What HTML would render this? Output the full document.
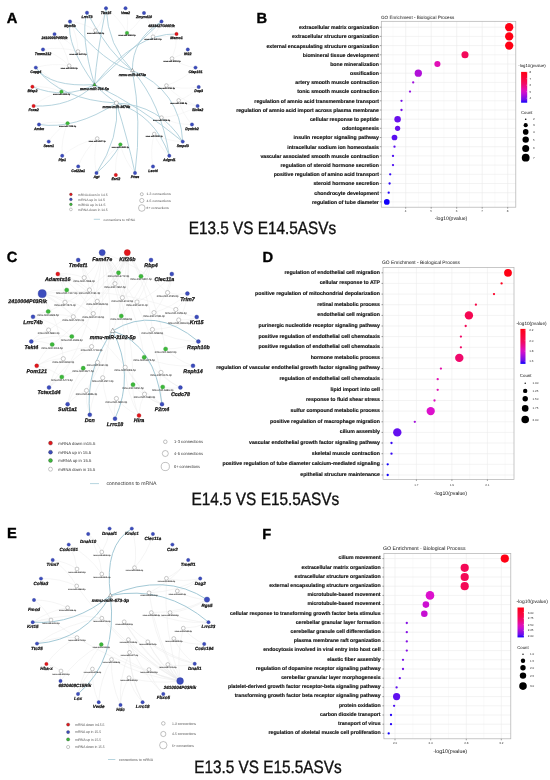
<!DOCTYPE html>
<html><head><meta charset="utf-8"><title>Figure</title>
<style>html,body{margin:0;padding:0;background:#fff;width:550px;height:780px;overflow:hidden}svg{display:block}</style></head>
<body><svg width="550" height="780" viewBox="0 0 550 780" text-rendering="geometricPrecision" font-family="'Liberation Sans', Arial, sans-serif">
<rect width="550" height="780" fill="#fff"/>
<path d="M127.0 33.0 Q129.2 20.4 125.5 8.2" fill="none" stroke="#ececec" stroke-width="0.45"/>
<path d="M127.0 33.0 Q137.9 25.0 144.0 13.0" fill="none" stroke="#ececec" stroke-width="0.45"/>
<path d="M127.0 33.0 Q119.5 18.1 106.0 8.2" fill="none" stroke="#ececec" stroke-width="0.45"/>
<path d="M61.5 91.8 Q47.6 85.8 32.4 86.7" fill="none" stroke="#ececec" stroke-width="0.45"/>
<path d="M61.5 91.8 Q45.8 95.6 33.6 106.0" fill="none" stroke="#ececec" stroke-width="0.45"/>
<path d="M61.5 91.8 Q51.6 76.6 35.8 67.6" fill="none" stroke="#ececec" stroke-width="0.45"/>
<path d="M67.6 123.3 Q56.0 130.2 48.7 141.6" fill="none" stroke="#ececec" stroke-width="0.45"/>
<path d="M67.6 123.3 Q53.2 120.5 39.0 124.5" fill="none" stroke="#ececec" stroke-width="0.45"/>
<path d="M67.6 123.3 Q61.0 138.9 62.2 155.8" fill="none" stroke="#ececec" stroke-width="0.45"/>
<path d="M120.4 144.5 Q114.4 159.2 115.8 175.0" fill="none" stroke="#ececec" stroke-width="0.45"/>
<path d="M120.4 144.5 Q124.3 160.5 135.0 173.0" fill="none" stroke="#ececec" stroke-width="0.45"/>
<path d="M120.4 144.5 Q105.0 155.9 96.5 173.0" fill="none" stroke="#ececec" stroke-width="0.45"/>
<path d="M95.5 30.5 Q93.4 20.6 87.0 12.7" fill="none" stroke="#ececec" stroke-width="0.45"/>
<path d="M95.5 30.5 Q103.4 20.6 106.0 8.2" fill="none" stroke="#ececec" stroke-width="0.45"/>
<path d="M95.5 30.5 Q83.8 22.9 70.0 21.5" fill="none" stroke="#ececec" stroke-width="0.45"/>
<path d="M153.0 36.7 Q159.1 30.1 161.5 21.5" fill="none" stroke="#ececec" stroke-width="0.45"/>
<path d="M153.0 36.7 Q165.1 38.2 176.5 34.0" fill="none" stroke="#ececec" stroke-width="0.45"/>
<path d="M153.0 36.7 Q151.3 23.8 144.0 13.0" fill="none" stroke="#ececec" stroke-width="0.45"/>
<path d="M78.0 51.5 Q68.3 40.0 54.5 34.1" fill="none" stroke="#ececec" stroke-width="0.45"/>
<path d="M78.0 51.5 Q77.6 35.5 70.0 21.5" fill="none" stroke="#ececec" stroke-width="0.45"/>
<path d="M78.0 51.5 Q60.7 46.3 43.0 49.5" fill="none" stroke="#ececec" stroke-width="0.45"/>
<path d="M69.2 65.7 Q58.0 54.5 43.0 49.5" fill="none" stroke="#ececec" stroke-width="0.45"/>
<path d="M69.2 65.7 Q52.3 62.6 35.8 67.6" fill="none" stroke="#ececec" stroke-width="0.45"/>
<path d="M69.2 65.7 Q65.6 48.1 54.5 34.1" fill="none" stroke="#ececec" stroke-width="0.45"/>
<path d="M172.0 58.5 Q181.0 55.9 187.8 49.5" fill="none" stroke="#ececec" stroke-width="0.45"/>
<path d="M172.0 58.5 Q177.2 46.8 176.5 34.0" fill="none" stroke="#ececec" stroke-width="0.45"/>
<path d="M172.0 58.5 Q182.7 65.9 195.5 67.6" fill="none" stroke="#ececec" stroke-width="0.45"/>
<path d="M166.4 85.5 Q182.4 90.1 198.7 87.0" fill="none" stroke="#ececec" stroke-width="0.45"/>
<path d="M166.4 85.5 Q183.1 80.0 195.5 67.6" fill="none" stroke="#ececec" stroke-width="0.45"/>
<path d="M166.4 85.5 Q179.5 99.5 197.6 106.0" fill="none" stroke="#ececec" stroke-width="0.45"/>
<path d="M178.7 100.4 Q187.5 105.5 197.6 106.0" fill="none" stroke="#ececec" stroke-width="0.45"/>
<path d="M178.7 100.4 Q190.3 96.1 198.7 87.0" fill="none" stroke="#ececec" stroke-width="0.45"/>
<path d="M178.7 100.4 Q182.5 114.0 192.0 124.5" fill="none" stroke="#ececec" stroke-width="0.45"/>
<path d="M161.5 117.6 Q175.9 124.7 192.0 124.5" fill="none" stroke="#ececec" stroke-width="0.45"/>
<path d="M161.5 117.6 Q169.2 132.1 182.7 141.6" fill="none" stroke="#ececec" stroke-width="0.45"/>
<path d="M161.5 117.6 Q180.9 116.1 197.6 106.0" fill="none" stroke="#ececec" stroke-width="0.45"/>
<path d="M154.2 134.0 Q159.1 146.7 169.3 155.8" fill="none" stroke="#ececec" stroke-width="0.45"/>
<path d="M154.2 134.0 Q167.5 141.2 182.7 141.6" fill="none" stroke="#ececec" stroke-width="0.45"/>
<path d="M154.2 134.0 Q149.7 150.1 153.0 166.5" fill="none" stroke="#ececec" stroke-width="0.45"/>
<path d="M97.2 138.5 Q84.4 150.2 78.2 166.4" fill="none" stroke="#ececec" stroke-width="0.45"/>
<path d="M97.2 138.5 Q92.7 155.7 96.5 173.0" fill="none" stroke="#ececec" stroke-width="0.45"/>
<path d="M97.2 138.5 Q77.6 143.0 62.2 155.8" fill="none" stroke="#ececec" stroke-width="0.45"/>
<path d="M70.0 21.5 Q66.0 45.0 94.5 84.6" fill="none" stroke="#a3c9d6" stroke-width="0.8"/>
<path d="M70.0 21.5 Q106.0 65.0 132.4 70.4" fill="none" stroke="#a3c9d6" stroke-width="0.8"/>
<path d="M87.0 12.7 Q80.0 36.0 94.5 84.6" fill="none" stroke="#a3c9d6" stroke-width="0.8"/>
<path d="M87.0 12.7 Q110.0 55.0 132.4 70.4" fill="none" stroke="#a3c9d6" stroke-width="0.8"/>
<path d="M106.0 8.2 Q97.0 52.0 94.5 84.6" fill="none" stroke="#a3c9d6" stroke-width="0.8"/>
<path d="M106.0 8.2 Q108.0 46.0 132.4 70.4" fill="none" stroke="#a3c9d6" stroke-width="0.8"/>
<path d="M161.5 21.5 Q132.0 39.0 132.4 70.4" fill="none" stroke="#a3c9d6" stroke-width="0.8"/>
<path d="M161.5 21.5 Q128.0 53.0 94.5 84.6" fill="none" stroke="#a3c9d6" stroke-width="0.8"/>
<path d="M176.5 34.0 Q136.5 32.7 94.5 84.6" fill="none" stroke="#a3c9d6" stroke-width="0.8"/>
<path d="M35.8 67.6 Q50.0 87.5 94.5 84.6" fill="none" stroke="#a3c9d6" stroke-width="0.8"/>
<path d="M35.8 67.6 Q60.0 100.0 116.4 103.0" fill="none" stroke="#a3c9d6" stroke-width="0.8"/>
<path d="M32.4 86.7 Q65.0 100.0 94.5 84.6" fill="none" stroke="#a3c9d6" stroke-width="0.8"/>
<path d="M33.6 106.0 Q71.0 107.5 94.5 84.6" fill="none" stroke="#a3c9d6" stroke-width="0.8"/>
<path d="M39.0 124.5 Q75.0 130.0 116.4 103.0" fill="none" stroke="#a3c9d6" stroke-width="0.8"/>
<path d="M132.4 70.4 Q180.0 90.0 182.7 141.6" fill="none" stroke="#a3c9d6" stroke-width="0.8"/>
<path d="M132.4 70.4 Q161.0 103.0 169.3 155.8" fill="none" stroke="#a3c9d6" stroke-width="0.8"/>
<path d="M116.4 103.0 Q160.0 105.0 182.7 141.6" fill="none" stroke="#a3c9d6" stroke-width="0.8"/>
<path d="M116.4 103.0 Q155.0 115.0 169.3 155.8" fill="none" stroke="#a3c9d6" stroke-width="0.8"/>
<path d="M132.4 70.4 Q142.0 122.0 135.0 173.0" fill="none" stroke="#a3c9d6" stroke-width="0.8"/>
<path d="M116.4 103.0 Q128.0 140.0 135.0 173.0" fill="none" stroke="#a3c9d6" stroke-width="0.8"/>
<path d="M116.4 103.0 Q120.0 137.0 96.5 173.0" fill="none" stroke="#a3c9d6" stroke-width="0.8"/>
<path d="M120.4 144.5 Q112.0 160.0 96.5 173.0" fill="none" stroke="#a3c9d6" stroke-width="0.8"/>
<path d="M94.5 84.6 Q105.0 95.0 116.4 103.0" fill="none" stroke="#a3c9d6" stroke-width="0.8"/>
<path d="M94.5 84.6 Q141.0 107.0 182.7 141.6" fill="none" stroke="#a3c9d6" stroke-width="0.8"/>
<circle cx="127.0" cy="33.0" r="1.8" fill="#3cb93a" stroke="#2a8a2a" stroke-width="0.3"/>
<text x="127.0" y="36.3" font-size="2.05" text-anchor="middle" fill="#222" stroke="#222" stroke-width="0.16">mmu-miR-3849-3p</text>
<circle cx="61.5" cy="91.8" r="1.8" fill="#3cb93a" stroke="#2a8a2a" stroke-width="0.3"/>
<text x="61.5" y="95.1" font-size="2.05" text-anchor="middle" fill="#222" stroke="#222" stroke-width="0.16">mmu-miR-4930-5p</text>
<circle cx="67.6" cy="123.3" r="1.8" fill="#3cb93a" stroke="#2a8a2a" stroke-width="0.3"/>
<text x="67.6" y="126.6" font-size="2.05" text-anchor="middle" fill="#222" stroke="#222" stroke-width="0.16">mmu-miR-7025-3p</text>
<circle cx="120.4" cy="144.5" r="1.8" fill="#3cb93a" stroke="#2a8a2a" stroke-width="0.3"/>
<text x="120.4" y="147.8" font-size="2.05" text-anchor="middle" fill="#222" stroke="#222" stroke-width="0.16">mmu-miR-6861-3p</text>
<circle cx="95.5" cy="30.5" r="1.8" fill="#fff" stroke="#666" stroke-width="0.35"/>
<text x="95.5" y="33.8" font-size="2.05" text-anchor="middle" fill="#222" stroke="#222" stroke-width="0.16">mmu-miR-5743-5p</text>
<circle cx="153.0" cy="36.7" r="1.8" fill="#fff" stroke="#666" stroke-width="0.35"/>
<text x="153.0" y="40.0" font-size="2.05" text-anchor="middle" fill="#222" stroke="#222" stroke-width="0.16">mmu-miR-6412-3p</text>
<circle cx="78.0" cy="51.5" r="1.8" fill="#fff" stroke="#666" stroke-width="0.35"/>
<text x="78.0" y="54.8" font-size="2.05" text-anchor="middle" fill="#222" stroke="#222" stroke-width="0.16">mmu-miR-3470-5p</text>
<circle cx="69.2" cy="65.7" r="1.8" fill="#fff" stroke="#666" stroke-width="0.35"/>
<text x="69.2" y="69.0" font-size="2.05" text-anchor="middle" fill="#222" stroke="#222" stroke-width="0.16">mmu-miR-6331-5p</text>
<circle cx="172.0" cy="58.5" r="1.8" fill="#fff" stroke="#666" stroke-width="0.35"/>
<text x="172.0" y="61.8" font-size="2.05" text-anchor="middle" fill="#222" stroke="#222" stroke-width="0.16">mmu-miR-5153-3p</text>
<circle cx="166.4" cy="85.5" r="1.8" fill="#fff" stroke="#666" stroke-width="0.35"/>
<text x="166.4" y="88.8" font-size="2.05" text-anchor="middle" fill="#222" stroke="#222" stroke-width="0.16">mmu-miR-3799-3p</text>
<circle cx="178.7" cy="100.4" r="1.8" fill="#fff" stroke="#666" stroke-width="0.35"/>
<text x="178.7" y="103.7" font-size="2.05" text-anchor="middle" fill="#222" stroke="#222" stroke-width="0.16">mmu-miR-6185-5p</text>
<circle cx="161.5" cy="117.6" r="1.8" fill="#fff" stroke="#666" stroke-width="0.35"/>
<text x="161.5" y="120.9" font-size="2.05" text-anchor="middle" fill="#222" stroke="#222" stroke-width="0.16">mmu-miR-2024-3p</text>
<circle cx="154.2" cy="134.0" r="1.8" fill="#fff" stroke="#666" stroke-width="0.35"/>
<text x="154.2" y="137.3" font-size="2.05" text-anchor="middle" fill="#222" stroke="#222" stroke-width="0.16">mmu-miR-3205-3p</text>
<circle cx="97.2" cy="138.5" r="1.8" fill="#fff" stroke="#666" stroke-width="0.35"/>
<text x="97.2" y="141.8" font-size="2.05" text-anchor="middle" fill="#222" stroke="#222" stroke-width="0.16">mmu-miR-4367-3p</text>
<circle cx="87.0" cy="12.7" r="1.7" fill="#3c4cbd" stroke="#2a3590" stroke-width="0.3"/>
<text x="87.0" y="17.9" font-size="3.6" text-anchor="middle" font-weight="bold" font-style="italic" fill="#111" stroke="#111" stroke-width="0.25">Lrrc73</text>
<circle cx="106.0" cy="8.2" r="1.7" fill="#3c4cbd" stroke="#2a3590" stroke-width="0.3"/>
<text x="106.0" y="13.9" font-size="3.6" text-anchor="middle" font-weight="bold" font-style="italic" fill="#111" stroke="#111" stroke-width="0.25">Tbx15</text>
<circle cx="125.5" cy="8.2" r="1.7" fill="#3c4cbd" stroke="#2a3590" stroke-width="0.3"/>
<text x="125.5" y="13.9" font-size="3.6" text-anchor="middle" font-weight="bold" font-style="italic" fill="#111" stroke="#111" stroke-width="0.25">Vwa2</text>
<circle cx="144.0" cy="13.0" r="1.7" fill="#3c4cbd" stroke="#2a3590" stroke-width="0.3"/>
<text x="144.0" y="17.9" font-size="3.6" text-anchor="middle" font-weight="bold" font-style="italic" fill="#111" stroke="#111" stroke-width="0.25">Zmynd10</text>
<circle cx="161.5" cy="21.5" r="1.7" fill="#3c4cbd" stroke="#2a3590" stroke-width="0.3"/>
<text x="161.5" y="26.5" font-size="3.6" text-anchor="middle" font-weight="bold" font-style="italic" fill="#111" stroke="#111" stroke-width="0.25">4833427G06Rik</text>
<circle cx="176.5" cy="34.0" r="1.7" fill="#e3161c" stroke="#a01010" stroke-width="0.3"/>
<text x="176.5" y="39.1" font-size="3.6" text-anchor="middle" font-weight="bold" font-style="italic" fill="#111" stroke="#111" stroke-width="0.25">Msmo1</text>
<circle cx="187.8" cy="49.5" r="1.7" fill="#3c4cbd" stroke="#2a3590" stroke-width="0.3"/>
<text x="187.8" y="54.5" font-size="3.6" text-anchor="middle" font-weight="bold" font-style="italic" fill="#111" stroke="#111" stroke-width="0.25">Ift22</text>
<circle cx="195.5" cy="67.6" r="1.7" fill="#3c4cbd" stroke="#2a3590" stroke-width="0.3"/>
<text x="195.5" y="72.7" font-size="3.6" text-anchor="middle" font-weight="bold" font-style="italic" fill="#111" stroke="#111" stroke-width="0.25">Cfap161</text>
<circle cx="198.7" cy="87.0" r="1.7" fill="#3c4cbd" stroke="#2a3590" stroke-width="0.3"/>
<text x="198.7" y="91.9" font-size="3.6" text-anchor="middle" font-weight="bold" font-style="italic" fill="#111" stroke="#111" stroke-width="0.25">Dsp3</text>
<circle cx="197.6" cy="106.0" r="1.7" fill="#3c4cbd" stroke="#2a3590" stroke-width="0.3"/>
<text x="197.6" y="111.0" font-size="3.6" text-anchor="middle" font-weight="bold" font-style="italic" fill="#111" stroke="#111" stroke-width="0.25">Slc9a2</text>
<circle cx="192.0" cy="124.5" r="1.7" fill="#3c4cbd" stroke="#2a3590" stroke-width="0.3"/>
<text x="192.0" y="129.8" font-size="3.6" text-anchor="middle" font-weight="bold" font-style="italic" fill="#111" stroke="#111" stroke-width="0.25">Dynlrb2</text>
<circle cx="182.7" cy="141.6" r="1.7" fill="#3c4cbd" stroke="#2a3590" stroke-width="0.3"/>
<text x="182.7" y="146.8" font-size="3.6" text-anchor="middle" font-weight="bold" font-style="italic" fill="#111" stroke="#111" stroke-width="0.25">Smpd3</text>
<circle cx="169.3" cy="155.8" r="1.7" fill="#3c4cbd" stroke="#2a3590" stroke-width="0.3"/>
<text x="169.3" y="160.9" font-size="3.6" text-anchor="middle" font-weight="bold" font-style="italic" fill="#111" stroke="#111" stroke-width="0.25">Adgrd1</text>
<circle cx="153.0" cy="166.5" r="1.7" fill="#3c4cbd" stroke="#2a3590" stroke-width="0.3"/>
<text x="153.0" y="171.5" font-size="3.6" text-anchor="middle" font-weight="bold" font-style="italic" fill="#111" stroke="#111" stroke-width="0.25">Lect4</text>
<circle cx="135.0" cy="173.0" r="1.7" fill="#3c4cbd" stroke="#2a3590" stroke-width="0.3"/>
<text x="135.0" y="178.3" font-size="3.6" text-anchor="middle" font-weight="bold" font-style="italic" fill="#111" stroke="#111" stroke-width="0.25">Ptws</text>
<circle cx="115.8" cy="175.0" r="1.7" fill="#e3161c" stroke="#a01010" stroke-width="0.3"/>
<text x="115.8" y="180.3" font-size="3.6" text-anchor="middle" font-weight="bold" font-style="italic" fill="#111" stroke="#111" stroke-width="0.25">Esrl2</text>
<circle cx="96.5" cy="173.0" r="1.7" fill="#3c4cbd" stroke="#2a3590" stroke-width="0.3"/>
<text x="96.5" y="178.3" font-size="3.6" text-anchor="middle" font-weight="bold" font-style="italic" fill="#111" stroke="#111" stroke-width="0.25">Agt</text>
<circle cx="78.2" cy="166.4" r="1.7" fill="#3c4cbd" stroke="#2a3590" stroke-width="0.3"/>
<text x="78.2" y="171.5" font-size="3.6" text-anchor="middle" font-weight="bold" font-style="italic" fill="#111" stroke="#111" stroke-width="0.25">Col22a1</text>
<circle cx="62.2" cy="155.8" r="1.7" fill="#3c4cbd" stroke="#2a3590" stroke-width="0.3"/>
<text x="62.2" y="160.9" font-size="3.6" text-anchor="middle" font-weight="bold" font-style="italic" fill="#111" stroke="#111" stroke-width="0.25">Plp1</text>
<circle cx="48.7" cy="141.6" r="1.7" fill="#3c4cbd" stroke="#2a3590" stroke-width="0.3"/>
<text x="48.7" y="146.8" font-size="3.6" text-anchor="middle" font-weight="bold" font-style="italic" fill="#111" stroke="#111" stroke-width="0.25">Sesn1</text>
<circle cx="39.0" cy="124.5" r="1.7" fill="#3c4cbd" stroke="#2a3590" stroke-width="0.3"/>
<text x="39.0" y="129.5" font-size="3.6" text-anchor="middle" font-weight="bold" font-style="italic" fill="#111" stroke="#111" stroke-width="0.25">Ambn</text>
<circle cx="33.6" cy="106.0" r="1.7" fill="#e3161c" stroke="#a01010" stroke-width="0.3"/>
<text x="33.6" y="111.0" font-size="3.6" text-anchor="middle" font-weight="bold" font-style="italic" fill="#111" stroke="#111" stroke-width="0.25">Foxa2</text>
<circle cx="32.4" cy="86.7" r="1.7" fill="#e3161c" stroke="#a01010" stroke-width="0.3"/>
<text x="32.4" y="91.8" font-size="3.6" text-anchor="middle" font-weight="bold" font-style="italic" fill="#111" stroke="#111" stroke-width="0.25">Bfsp2</text>
<circle cx="35.8" cy="67.6" r="1.7" fill="#3c4cbd" stroke="#2a3590" stroke-width="0.3"/>
<text x="35.8" y="73.3" font-size="3.6" text-anchor="middle" font-weight="bold" font-style="italic" fill="#111" stroke="#111" stroke-width="0.25">Cspg4</text>
<circle cx="43.0" cy="49.5" r="1.7" fill="#3c4cbd" stroke="#2a3590" stroke-width="0.3"/>
<text x="43.0" y="54.8" font-size="3.6" text-anchor="middle" font-weight="bold" font-style="italic" fill="#111" stroke="#111" stroke-width="0.25">Tmem212</text>
<circle cx="54.5" cy="34.1" r="1.7" fill="#3c4cbd" stroke="#2a3590" stroke-width="0.3"/>
<text x="54.5" y="38.9" font-size="3.6" text-anchor="middle" font-weight="bold" font-style="italic" fill="#111" stroke="#111" stroke-width="0.25">2410006P05Rik</text>
<circle cx="70.0" cy="21.5" r="1.7" fill="#3c4cbd" stroke="#2a3590" stroke-width="0.3"/>
<text x="70.0" y="26.8" font-size="3.6" text-anchor="middle" font-weight="bold" font-style="italic" fill="#111" stroke="#111" stroke-width="0.25">Myo5b</text>
<path d="M94.5 82.7 L96.3 85.9 L92.7 85.9 Z" fill="#3cb93a" stroke="#333" stroke-width="0.35"/>
<text x="94.5" y="89.7" font-size="3.55" text-anchor="middle" font-weight="bold" font-style="italic" fill="#111" stroke="#111" stroke-width="0.25">mmu-miR-764-5p</text>
<path d="M132.4 68.5 L134.2 71.7 L130.6 71.7 Z" fill="#fff" stroke="#333" stroke-width="0.35"/>
<text x="132.4" y="75.5" font-size="3.55" text-anchor="middle" font-weight="bold" font-style="italic" fill="#111" stroke="#111" stroke-width="0.25">mmu-miR-3473e</text>
<circle cx="116.4" cy="103.0" r="2.0" fill="#fff" stroke="#666" stroke-width="0.35"/>
<text x="116.4" y="108.2" font-size="3.55" text-anchor="middle" font-weight="bold" font-style="italic" fill="#111" stroke="#111" stroke-width="0.25">mmu-miR-3479b</text>
<circle cx="70.9" cy="194.4" r="1.4" fill="#e3161c" stroke="#333" stroke-width="0.3"/>
<text x="78.0" y="195.6" font-size="3.3" fill="#555" textLength="29.6" lengthAdjust="spacingAndGlyphs">mRNA down in 14.5</text>
<circle cx="70.9" cy="199.4" r="1.4" fill="#3c4cbd" stroke="#333" stroke-width="0.3"/>
<text x="78.0" y="200.6" font-size="3.3" fill="#555" textLength="27.0" lengthAdjust="spacingAndGlyphs">mRNA up in 14.5</text>
<circle cx="70.9" cy="204.4" r="1.4" fill="#3cb93a" stroke="#333" stroke-width="0.3"/>
<text x="78.0" y="205.6" font-size="3.3" fill="#555" textLength="27.5" lengthAdjust="spacingAndGlyphs">miRNA up in 14.5</text>
<circle cx="70.9" cy="209.4" r="1.4" fill="#fff" stroke="#666" stroke-width="0.35"/>
<text x="78.0" y="210.6" font-size="3.3" fill="#555" textLength="29.6" lengthAdjust="spacingAndGlyphs">miRNA down in 14.5</text>
<circle cx="141.8" cy="194.2" r="1.5" fill="#fff" stroke="#666" stroke-width="0.4"/>
<text x="146.6" y="195.4" font-size="3.3" fill="#555" textLength="24.0" lengthAdjust="spacingAndGlyphs">1-3 connections</text>
<circle cx="141.8" cy="200.5" r="2.1" fill="#fff" stroke="#666" stroke-width="0.4"/>
<text x="146.6" y="201.7" font-size="3.3" fill="#555" textLength="24.0" lengthAdjust="spacingAndGlyphs">4-5 connections</text>
<circle cx="141.8" cy="208" r="3.3" fill="#fff" stroke="#666" stroke-width="0.4"/>
<text x="146.6" y="209.2" font-size="3.3" fill="#555" textLength="22.0" lengthAdjust="spacingAndGlyphs">6+ connections</text>
<line x1="93.8" y1="219.3" x2="100" y2="219.3" stroke="#a3c9d6" stroke-width="0.8"/>
<text x="103.6" y="220.5" font-size="3.3" fill="#555" textLength="31.7" lengthAdjust="spacingAndGlyphs">connections to mRNA</text>
<path d="M66.7 290.0 Q64.2 280.9 57.8 274.0" fill="none" stroke="#ebebeb" stroke-width="0.45"/>
<path d="M66.7 290.0 Q54.0 288.9 42.2 293.7" fill="none" stroke="#ebebeb" stroke-width="0.45"/>
<path d="M118.5 272.8 Q125.3 263.8 127.3 252.6" fill="none" stroke="#ebebeb" stroke-width="0.45"/>
<path d="M118.5 272.8 Q112.8 260.7 102.2 252.6" fill="none" stroke="#ebebeb" stroke-width="0.45"/>
<path d="M118.5 272.8 Q112.8 260.7 102.2 252.6" fill="none" stroke="#ebebeb" stroke-width="0.45"/>
<path d="M141.0 276.3 Q148.0 269.3 151.0 260.0" fill="none" stroke="#ebebeb" stroke-width="0.45"/>
<path d="M141.0 276.3 Q137.0 262.8 127.3 252.6" fill="none" stroke="#ebebeb" stroke-width="0.45"/>
<path d="M48.2 311.5 Q40.0 312.3 33.0 316.8" fill="none" stroke="#ebebeb" stroke-width="0.45"/>
<path d="M48.2 311.5 Q47.3 301.9 42.2 293.7" fill="none" stroke="#ebebeb" stroke-width="0.45"/>
<path d="M48.2 311.5 Q94.8 291.5 127.3 252.6" fill="none" stroke="#ebebeb" stroke-width="0.45"/>
<path d="M121.3 316.0 Q142.9 291.6 151.0 260.0" fill="none" stroke="#ebebeb" stroke-width="0.45"/>
<path d="M121.3 316.0 Q131.9 285.0 127.3 252.6" fill="none" stroke="#ebebeb" stroke-width="0.45"/>
<path d="M71.8 336.5 Q50.9 334.1 31.3 341.5" fill="none" stroke="#ebebeb" stroke-width="0.45"/>
<path d="M71.8 336.5 Q54.8 322.0 33.0 316.8" fill="none" stroke="#ebebeb" stroke-width="0.45"/>
<path d="M71.8 336.5 Q109.6 301.2 127.3 252.6" fill="none" stroke="#ebebeb" stroke-width="0.45"/>
<path d="M52.2 344.5 Q42.1 340.5 31.3 341.5" fill="none" stroke="#ebebeb" stroke-width="0.45"/>
<path d="M52.2 344.5 Q41.9 353.3 36.7 365.8" fill="none" stroke="#ebebeb" stroke-width="0.45"/>
<path d="M52.2 344.5 Q100.8 307.6 127.3 252.6" fill="none" stroke="#ebebeb" stroke-width="0.45"/>
<path d="M83.2 368.2 Q71.1 384.3 67.6 404.2" fill="none" stroke="#ebebeb" stroke-width="0.45"/>
<path d="M83.2 368.2 Q63.8 373.7 49.0 387.5" fill="none" stroke="#ebebeb" stroke-width="0.45"/>
<path d="M61.8 377.0 Q54.1 380.7 49.0 387.5" fill="none" stroke="#ebebeb" stroke-width="0.45"/>
<path d="M61.8 377.0 Q50.6 368.4 36.7 365.8" fill="none" stroke="#ebebeb" stroke-width="0.45"/>
<path d="M61.8 377.0 Q96.9 319.6 102.2 252.6" fill="none" stroke="#ebebeb" stroke-width="0.45"/>
<path d="M133.0 384.7 Q132.3 400.8 139.0 415.5" fill="none" stroke="#ebebeb" stroke-width="0.45"/>
<path d="M133.0 384.7 Q145.2 397.9 162.0 404.2" fill="none" stroke="#ebebeb" stroke-width="0.45"/>
<path d="M133.0 384.7 Q133.5 315.0 102.2 252.6" fill="none" stroke="#ebebeb" stroke-width="0.45"/>
<path d="M165.6 349.0 Q177.3 360.7 193.0 365.8" fill="none" stroke="#ebebeb" stroke-width="0.45"/>
<path d="M165.6 349.0 Q182.9 349.2 198.4 341.5" fill="none" stroke="#ebebeb" stroke-width="0.45"/>
<path d="M165.6 349.0 Q158.0 296.2 127.3 252.6" fill="none" stroke="#ebebeb" stroke-width="0.45"/>
<path d="M144.2 357.3 Q158.7 376.8 180.4 387.6" fill="none" stroke="#ebebeb" stroke-width="0.45"/>
<path d="M144.2 357.3 Q167.6 367.4 193.0 365.8" fill="none" stroke="#ebebeb" stroke-width="0.45"/>
<path d="M144.2 357.3 Q135.8 299.9 102.2 252.6" fill="none" stroke="#ebebeb" stroke-width="0.45"/>
<path d="M162.7 387.0 Q160.3 395.5 162.0 404.2" fill="none" stroke="#ebebeb" stroke-width="0.45"/>
<path d="M162.7 387.0 Q171.5 389.4 180.4 387.6" fill="none" stroke="#ebebeb" stroke-width="0.45"/>
<path d="M84.2 277.7 Q83.3 268.1 78.2 260.0" fill="none" stroke="#ebebeb" stroke-width="0.45"/>
<path d="M84.2 277.7 Q71.4 272.7 57.8 274.0" fill="none" stroke="#ebebeb" stroke-width="0.45"/>
<path d="M84.2 277.7 Q96.2 267.3 102.2 252.6" fill="none" stroke="#ebebeb" stroke-width="0.45"/>
<path d="M89.5 290.0 Q87.4 273.6 78.2 260.0" fill="none" stroke="#ebebeb" stroke-width="0.45"/>
<path d="M89.5 290.0 Q75.6 278.2 57.8 274.0" fill="none" stroke="#ebebeb" stroke-width="0.45"/>
<path d="M65.0 302.3 Q54.6 295.3 42.2 293.7" fill="none" stroke="#ebebeb" stroke-width="0.45"/>
<path d="M65.0 302.3 Q64.8 287.3 57.8 274.0" fill="none" stroke="#ebebeb" stroke-width="0.45"/>
<path d="M97.3 301.4 Q92.7 278.4 78.2 260.0" fill="none" stroke="#ebebeb" stroke-width="0.45"/>
<path d="M97.3 301.4 Q80.8 283.0 57.8 274.0" fill="none" stroke="#ebebeb" stroke-width="0.45"/>
<path d="M97.3 301.4 Q118.2 280.6 127.3 252.6" fill="none" stroke="#ebebeb" stroke-width="0.45"/>
<path d="M73.3 316.8 Q60.5 301.5 42.2 293.7" fill="none" stroke="#ebebeb" stroke-width="0.45"/>
<path d="M73.3 316.8 Q53.1 312.0 33.0 316.8" fill="none" stroke="#ebebeb" stroke-width="0.45"/>
<path d="M73.3 316.8 Q95.5 288.2 102.2 252.6" fill="none" stroke="#ebebeb" stroke-width="0.45"/>
<path d="M93.3 313.6 Q80.3 289.5 57.8 274.0" fill="none" stroke="#ebebeb" stroke-width="0.45"/>
<path d="M93.3 313.6 Q70.1 297.5 42.2 293.7" fill="none" stroke="#ebebeb" stroke-width="0.45"/>
<path d="M48.6 330.0 Q42.4 321.5 33.0 316.8" fill="none" stroke="#ebebeb" stroke-width="0.45"/>
<path d="M48.6 330.0 Q38.6 333.7 31.3 341.5" fill="none" stroke="#ebebeb" stroke-width="0.45"/>
<path d="M48.6 330.0 Q97.2 300.7 127.3 252.6" fill="none" stroke="#ebebeb" stroke-width="0.45"/>
<path d="M91.6 346.6 Q61.8 349.6 36.7 365.8" fill="none" stroke="#ebebeb" stroke-width="0.45"/>
<path d="M91.6 346.6 Q65.4 361.9 49.0 387.5" fill="none" stroke="#ebebeb" stroke-width="0.45"/>
<path d="M91.6 346.6 Q108.2 300.9 102.2 252.6" fill="none" stroke="#ebebeb" stroke-width="0.45"/>
<path d="M63.3 358.7 Q49.1 359.1 36.7 365.8" fill="none" stroke="#ebebeb" stroke-width="0.45"/>
<path d="M63.3 358.7 Q52.7 371.4 49.0 387.5" fill="none" stroke="#ebebeb" stroke-width="0.45"/>
<path d="M63.3 358.7 Q60.5 323.7 42.2 293.7" fill="none" stroke="#ebebeb" stroke-width="0.45"/>
<path d="M97.5 362.4 Q77.5 379.7 67.6 404.2" fill="none" stroke="#ebebeb" stroke-width="0.45"/>
<path d="M97.5 362.4 Q87.4 387.7 89.8 414.8" fill="none" stroke="#ebebeb" stroke-width="0.45"/>
<path d="M125.2 367.3 Q126.3 393.1 139.0 415.5" fill="none" stroke="#ebebeb" stroke-width="0.45"/>
<path d="M125.2 367.3 Q139.2 390.2 162.0 404.2" fill="none" stroke="#ebebeb" stroke-width="0.45"/>
<path d="M125.2 367.3 Q127.5 307.2 102.2 252.6" fill="none" stroke="#ebebeb" stroke-width="0.45"/>
<path d="M102.7 377.8 Q91.8 394.8 89.8 414.8" fill="none" stroke="#ebebeb" stroke-width="0.45"/>
<path d="M102.7 377.8 Q103.9 399.7 115.0 418.7" fill="none" stroke="#ebebeb" stroke-width="0.45"/>
<path d="M102.7 377.8 Q117.5 315.1 102.2 252.6" fill="none" stroke="#ebebeb" stroke-width="0.45"/>
<path d="M86.5 390.5 Q75.4 395.1 67.6 404.2" fill="none" stroke="#ebebeb" stroke-width="0.45"/>
<path d="M86.5 390.5 Q85.2 403.0 89.8 414.8" fill="none" stroke="#ebebeb" stroke-width="0.45"/>
<path d="M86.5 390.5 Q123.4 326.4 127.3 252.6" fill="none" stroke="#ebebeb" stroke-width="0.45"/>
<path d="M115.0 283.7 Q124.9 269.6 127.3 252.6" fill="none" stroke="#ebebeb" stroke-width="0.45"/>
<path d="M115.0 283.7 Q112.3 266.6 102.2 252.6" fill="none" stroke="#ebebeb" stroke-width="0.45"/>
<path d="M115.0 283.7 Q112.3 266.6 102.2 252.6" fill="none" stroke="#ebebeb" stroke-width="0.45"/>
<path d="M122.4 297.7 Q130.3 275.7 127.3 252.6" fill="none" stroke="#ebebeb" stroke-width="0.45"/>
<path d="M122.4 297.7 Q141.2 282.3 151.0 260.0" fill="none" stroke="#ebebeb" stroke-width="0.45"/>
<path d="M122.4 297.7 Q117.7 272.7 102.2 252.6" fill="none" stroke="#ebebeb" stroke-width="0.45"/>
<path d="M137.0 302.0 Q149.0 282.7 151.0 260.0" fill="none" stroke="#ebebeb" stroke-width="0.45"/>
<path d="M137.0 302.0 Q157.8 292.2 171.8 274.0" fill="none" stroke="#ebebeb" stroke-width="0.45"/>
<path d="M167.6 292.6 Q171.9 283.8 171.8 274.0" fill="none" stroke="#ebebeb" stroke-width="0.45"/>
<path d="M167.6 292.6 Q177.4 295.5 187.4 293.6" fill="none" stroke="#ebebeb" stroke-width="0.45"/>
<path d="M167.6 292.6 Q139.7 264.8 102.2 252.6" fill="none" stroke="#ebebeb" stroke-width="0.45"/>
<path d="M175.8 309.5 Q183.5 302.9 187.4 293.6" fill="none" stroke="#ebebeb" stroke-width="0.45"/>
<path d="M175.8 309.5 Q185.3 315.8 196.7 317.0" fill="none" stroke="#ebebeb" stroke-width="0.45"/>
<path d="M175.8 309.5 Q110.9 285.6 42.2 293.7" fill="none" stroke="#ebebeb" stroke-width="0.45"/>
<path d="M154.0 312.6 Q173.0 307.1 187.4 293.6" fill="none" stroke="#ebebeb" stroke-width="0.45"/>
<path d="M154.0 312.6 Q167.5 295.4 171.8 274.0" fill="none" stroke="#ebebeb" stroke-width="0.45"/>
<path d="M178.7 320.0 Q188.1 320.7 196.7 317.0" fill="none" stroke="#ebebeb" stroke-width="0.45"/>
<path d="M178.7 320.0 Q186.2 307.8 187.4 293.6" fill="none" stroke="#ebebeb" stroke-width="0.45"/>
<path d="M152.4 329.5 Q176.1 328.6 196.7 317.0" fill="none" stroke="#ebebeb" stroke-width="0.45"/>
<path d="M152.4 329.5 Q174.0 341.0 198.4 341.5" fill="none" stroke="#ebebeb" stroke-width="0.45"/>
<path d="M152.4 329.5 Q149.1 288.0 127.3 252.6" fill="none" stroke="#ebebeb" stroke-width="0.45"/>
<path d="M161.0 372.4 Q168.9 382.3 180.4 387.6" fill="none" stroke="#ebebeb" stroke-width="0.45"/>
<path d="M161.0 372.4 Q157.7 388.4 162.0 404.2" fill="none" stroke="#ebebeb" stroke-width="0.45"/>
<path d="M161.0 372.4 Q146.0 305.4 102.2 252.6" fill="none" stroke="#ebebeb" stroke-width="0.45"/>
<path d="M144.5 394.2 Q152.1 401.3 162.0 404.2" fill="none" stroke="#ebebeb" stroke-width="0.45"/>
<path d="M144.5 394.2 Q139.2 404.2 139.0 415.5" fill="none" stroke="#ebebeb" stroke-width="0.45"/>
<path d="M144.5 394.2 Q105.4 331.7 42.2 293.7" fill="none" stroke="#ebebeb" stroke-width="0.45"/>
<path d="M116.4 398.5 Q113.3 408.4 115.0 418.7" fill="none" stroke="#ebebeb" stroke-width="0.45"/>
<path d="M116.4 398.5 Q125.7 409.7 139.0 415.5" fill="none" stroke="#ebebeb" stroke-width="0.45"/>
<path d="M112.7 330.8 Q155.0 305.0 198.4 341.5" fill="none" stroke="#a3c9d6" stroke-width="1.0"/>
<path d="M112.7 330.8 Q85.0 370.0 89.8 414.8" fill="none" stroke="#a3c9d6" stroke-width="1.0"/>
<path d="M112.7 330.8 Q135.0 375.0 115.0 418.7" fill="none" stroke="#a3c9d6" stroke-width="1.0"/>
<path d="M112.7 330.8 Q155.0 345.0 162.0 404.2" fill="none" stroke="#a3c9d6" stroke-width="1.0"/>
<circle cx="66.7" cy="290.0" r="2.1" fill="#3cb93a" stroke="#2a8a2a" stroke-width="0.3"/>
<text x="66.7" y="294.0" font-size="2.6" text-anchor="middle" fill="#444" stroke="#444" stroke-width="0.06">mmu-miR-4107-5p</text>
<circle cx="118.5" cy="272.8" r="2.1" fill="#3cb93a" stroke="#2a8a2a" stroke-width="0.3"/>
<text x="118.5" y="276.8" font-size="2.6" text-anchor="middle" fill="#444" stroke="#444" stroke-width="0.06">mmu-miR-6772-5p</text>
<circle cx="141.0" cy="276.3" r="2.1" fill="#3cb93a" stroke="#2a8a2a" stroke-width="0.3"/>
<text x="141.0" y="280.3" font-size="2.6" text-anchor="middle" fill="#444" stroke="#444" stroke-width="0.06">mmu-miR-5397-5p</text>
<circle cx="48.2" cy="311.5" r="2.1" fill="#3cb93a" stroke="#2a8a2a" stroke-width="0.3"/>
<text x="48.2" y="315.5" font-size="2.6" text-anchor="middle" fill="#444" stroke="#444" stroke-width="0.06">mmu-miR-6626-5p</text>
<circle cx="121.3" cy="316.0" r="2.1" fill="#3cb93a" stroke="#2a8a2a" stroke-width="0.3"/>
<text x="121.3" y="320.0" font-size="2.6" text-anchor="middle" fill="#444" stroke="#444" stroke-width="0.06">mmu-miR-2998-5p</text>
<circle cx="71.8" cy="336.5" r="2.1" fill="#3cb93a" stroke="#2a8a2a" stroke-width="0.3"/>
<text x="71.8" y="340.5" font-size="2.6" text-anchor="middle" fill="#444" stroke="#444" stroke-width="0.06">mmu-miR-2698-3p</text>
<circle cx="52.2" cy="344.5" r="2.1" fill="#3cb93a" stroke="#2a8a2a" stroke-width="0.3"/>
<text x="52.2" y="348.5" font-size="2.6" text-anchor="middle" fill="#444" stroke="#444" stroke-width="0.06">mmu-miR-3013-5p</text>
<circle cx="83.2" cy="368.2" r="2.1" fill="#3cb93a" stroke="#2a8a2a" stroke-width="0.3"/>
<text x="83.2" y="372.2" font-size="2.6" text-anchor="middle" fill="#444" stroke="#444" stroke-width="0.06">mmu-miR-3677-5p</text>
<circle cx="61.8" cy="377.0" r="2.1" fill="#3cb93a" stroke="#2a8a2a" stroke-width="0.3"/>
<text x="61.8" y="381.0" font-size="2.6" text-anchor="middle" fill="#444" stroke="#444" stroke-width="0.06">mmu-miR-5473-5p</text>
<circle cx="133.0" cy="384.7" r="2.1" fill="#3cb93a" stroke="#2a8a2a" stroke-width="0.3"/>
<text x="133.0" y="388.7" font-size="2.6" text-anchor="middle" fill="#444" stroke="#444" stroke-width="0.06">mmu-miR-5350-5p</text>
<circle cx="165.6" cy="349.0" r="2.1" fill="#3cb93a" stroke="#2a8a2a" stroke-width="0.3"/>
<text x="165.6" y="353.0" font-size="2.6" text-anchor="middle" fill="#444" stroke="#444" stroke-width="0.06">mmu-miR-6602-5p</text>
<circle cx="144.2" cy="357.3" r="2.1" fill="#3cb93a" stroke="#2a8a2a" stroke-width="0.3"/>
<text x="144.2" y="361.3" font-size="2.6" text-anchor="middle" fill="#444" stroke="#444" stroke-width="0.06">mmu-miR-6275-5p</text>
<circle cx="162.7" cy="387.0" r="2.1" fill="#3cb93a" stroke="#2a8a2a" stroke-width="0.3"/>
<text x="162.7" y="391.0" font-size="2.6" text-anchor="middle" fill="#444" stroke="#444" stroke-width="0.06">mmu-miR-6686-3p</text>
<circle cx="84.2" cy="277.7" r="2.1" fill="#fff" stroke="#666" stroke-width="0.35"/>
<text x="84.2" y="281.7" font-size="2.6" text-anchor="middle" fill="#444" stroke="#444" stroke-width="0.06">mmu-miR-4658-3p</text>
<circle cx="89.5" cy="290.0" r="2.1" fill="#fff" stroke="#666" stroke-width="0.35"/>
<text x="89.5" y="294.0" font-size="2.6" text-anchor="middle" fill="#444" stroke="#444" stroke-width="0.06">mmu-miR-4191-3p</text>
<circle cx="65.0" cy="302.3" r="2.1" fill="#fff" stroke="#666" stroke-width="0.35"/>
<text x="65.0" y="306.3" font-size="2.6" text-anchor="middle" fill="#444" stroke="#444" stroke-width="0.06">mmu-miR-4573-3p</text>
<circle cx="97.3" cy="301.4" r="2.1" fill="#fff" stroke="#666" stroke-width="0.35"/>
<text x="97.3" y="305.4" font-size="2.6" text-anchor="middle" fill="#444" stroke="#444" stroke-width="0.06">mmu-miR-3629-5p</text>
<circle cx="73.3" cy="316.8" r="2.1" fill="#fff" stroke="#666" stroke-width="0.35"/>
<text x="73.3" y="320.8" font-size="2.6" text-anchor="middle" fill="#444" stroke="#444" stroke-width="0.06">mmu-miR-4234-3p</text>
<circle cx="93.3" cy="313.6" r="2.1" fill="#fff" stroke="#666" stroke-width="0.35"/>
<text x="93.3" y="317.6" font-size="2.6" text-anchor="middle" fill="#444" stroke="#444" stroke-width="0.06">mmu-miR-2419-5p</text>
<circle cx="48.6" cy="330.0" r="2.1" fill="#fff" stroke="#666" stroke-width="0.35"/>
<text x="48.6" y="334.0" font-size="2.6" text-anchor="middle" fill="#444" stroke="#444" stroke-width="0.06">mmu-miR-5860-3p</text>
<circle cx="91.6" cy="346.6" r="2.1" fill="#fff" stroke="#666" stroke-width="0.35"/>
<text x="91.6" y="350.6" font-size="2.6" text-anchor="middle" fill="#444" stroke="#444" stroke-width="0.06">mmu-miR-4718-3p</text>
<circle cx="63.3" cy="358.7" r="2.1" fill="#fff" stroke="#666" stroke-width="0.35"/>
<text x="63.3" y="362.7" font-size="2.6" text-anchor="middle" fill="#444" stroke="#444" stroke-width="0.06">mmu-miR-5262-3p</text>
<circle cx="97.5" cy="362.4" r="2.1" fill="#fff" stroke="#666" stroke-width="0.35"/>
<text x="97.5" y="366.4" font-size="2.6" text-anchor="middle" fill="#444" stroke="#444" stroke-width="0.06">mmu-miR-2064-5p</text>
<circle cx="125.2" cy="367.3" r="2.1" fill="#fff" stroke="#666" stroke-width="0.35"/>
<text x="125.2" y="371.3" font-size="2.6" text-anchor="middle" fill="#444" stroke="#444" stroke-width="0.06">mmu-miR-5399-5p</text>
<circle cx="102.7" cy="377.8" r="2.1" fill="#fff" stroke="#666" stroke-width="0.35"/>
<text x="102.7" y="381.8" font-size="2.6" text-anchor="middle" fill="#444" stroke="#444" stroke-width="0.06">mmu-miR-2874-3p</text>
<circle cx="86.5" cy="390.5" r="2.1" fill="#fff" stroke="#666" stroke-width="0.35"/>
<text x="86.5" y="394.5" font-size="2.6" text-anchor="middle" fill="#444" stroke="#444" stroke-width="0.06">mmu-miR-6856-3p</text>
<circle cx="115.0" cy="283.7" r="2.1" fill="#fff" stroke="#666" stroke-width="0.35"/>
<text x="115.0" y="287.7" font-size="2.6" text-anchor="middle" fill="#444" stroke="#444" stroke-width="0.06">mmu-miR-4994-5p</text>
<circle cx="122.4" cy="297.7" r="2.1" fill="#fff" stroke="#666" stroke-width="0.35"/>
<text x="122.4" y="301.7" font-size="2.6" text-anchor="middle" fill="#444" stroke="#444" stroke-width="0.06">mmu-miR-6412-5p</text>
<circle cx="137.0" cy="302.0" r="2.1" fill="#fff" stroke="#666" stroke-width="0.35"/>
<text x="137.0" y="306.0" font-size="2.6" text-anchor="middle" fill="#444" stroke="#444" stroke-width="0.06">mmu-miR-6040-3p</text>
<circle cx="167.6" cy="292.6" r="2.1" fill="#fff" stroke="#666" stroke-width="0.35"/>
<text x="167.6" y="296.6" font-size="2.6" text-anchor="middle" fill="#444" stroke="#444" stroke-width="0.06">mmu-miR-2195-5p</text>
<circle cx="175.8" cy="309.5" r="2.1" fill="#fff" stroke="#666" stroke-width="0.35"/>
<text x="175.8" y="313.5" font-size="2.6" text-anchor="middle" fill="#444" stroke="#444" stroke-width="0.06">mmu-miR-1959-3p</text>
<circle cx="154.0" cy="312.6" r="2.1" fill="#fff" stroke="#666" stroke-width="0.35"/>
<text x="154.0" y="316.6" font-size="2.6" text-anchor="middle" fill="#444" stroke="#444" stroke-width="0.06">mmu-miR-2785-3p</text>
<circle cx="178.7" cy="320.0" r="2.1" fill="#fff" stroke="#666" stroke-width="0.35"/>
<text x="178.7" y="324.0" font-size="2.6" text-anchor="middle" fill="#444" stroke="#444" stroke-width="0.06">mmu-miR-3516-5p</text>
<circle cx="152.4" cy="329.5" r="2.1" fill="#fff" stroke="#666" stroke-width="0.35"/>
<text x="152.4" y="333.5" font-size="2.6" text-anchor="middle" fill="#444" stroke="#444" stroke-width="0.06">mmu-miR-4288-5p</text>
<circle cx="161.0" cy="372.4" r="2.1" fill="#fff" stroke="#666" stroke-width="0.35"/>
<text x="161.0" y="376.4" font-size="2.6" text-anchor="middle" fill="#444" stroke="#444" stroke-width="0.06">mmu-miR-3179-3p</text>
<circle cx="144.5" cy="394.2" r="2.1" fill="#fff" stroke="#666" stroke-width="0.35"/>
<text x="144.5" y="398.2" font-size="2.6" text-anchor="middle" fill="#444" stroke="#444" stroke-width="0.06">mmu-miR-4683-5p</text>
<circle cx="116.4" cy="398.5" r="2.1" fill="#fff" stroke="#666" stroke-width="0.35"/>
<text x="116.4" y="402.5" font-size="2.6" text-anchor="middle" fill="#444" stroke="#444" stroke-width="0.06">mmu-miR-4850-3p</text>
<circle cx="102.2" cy="252.6" r="3.1" fill="#3c4cbd" stroke="#2a3590" stroke-width="0.3"/>
<text x="102.2" y="261.3" font-size="5.35" text-anchor="middle" font-weight="bold" font-style="italic" fill="#111" stroke="#111" stroke-width="0.25">Fam47e</text>
<circle cx="127.3" cy="252.6" r="3.1" fill="#e3161c" stroke="#a01010" stroke-width="0.3"/>
<text x="127.3" y="261.3" font-size="5.35" text-anchor="middle" font-weight="bold" font-style="italic" fill="#111" stroke="#111" stroke-width="0.25">Kif26b</text>
<circle cx="78.2" cy="260.0" r="2.0" fill="#3c4cbd" stroke="#2a3590" stroke-width="0.3"/>
<text x="78.2" y="267.1" font-size="5.35" text-anchor="middle" font-weight="bold" font-style="italic" fill="#111" stroke="#111" stroke-width="0.25">Tm4sf1</text>
<circle cx="151.0" cy="260.0" r="2.0" fill="#3c4cbd" stroke="#2a3590" stroke-width="0.3"/>
<text x="151.0" y="267.3" font-size="5.35" text-anchor="middle" font-weight="bold" font-style="italic" fill="#111" stroke="#111" stroke-width="0.25">Rbp4</text>
<circle cx="57.8" cy="274.0" r="2.0" fill="#e3161c" stroke="#a01010" stroke-width="0.3"/>
<text x="57.8" y="281.2" font-size="5.35" text-anchor="middle" font-weight="bold" font-style="italic" fill="#111" stroke="#111" stroke-width="0.25">Adamts16</text>
<circle cx="171.8" cy="274.0" r="2.0" fill="#3c4cbd" stroke="#2a3590" stroke-width="0.3"/>
<text x="164.3" y="281.2" font-size="5.35" text-anchor="middle" font-weight="bold" font-style="italic" fill="#111" stroke="#111" stroke-width="0.25">Clec11a</text>
<circle cx="42.2" cy="293.7" r="4.1" fill="#3c4cbd" stroke="#2a3590" stroke-width="0.3"/>
<text x="27.6" y="302.7" font-size="5.35" text-anchor="middle" font-weight="bold" font-style="italic" fill="#111" stroke="#111" stroke-width="0.25">2410004P03Rik</text>
<circle cx="187.4" cy="293.6" r="2.0" fill="#3c4cbd" stroke="#2a3590" stroke-width="0.3"/>
<text x="187.4" y="300.8" font-size="5.35" text-anchor="middle" font-weight="bold" font-style="italic" fill="#111" stroke="#111" stroke-width="0.25">Trim7</text>
<circle cx="33.0" cy="316.8" r="2.0" fill="#3c4cbd" stroke="#2a3590" stroke-width="0.3"/>
<text x="33.0" y="324.2" font-size="5.35" text-anchor="middle" font-weight="bold" font-style="italic" fill="#111" stroke="#111" stroke-width="0.25">Lrrc74b</text>
<circle cx="196.7" cy="317.0" r="2.0" fill="#3c4cbd" stroke="#2a3590" stroke-width="0.3"/>
<text x="196.7" y="324.2" font-size="5.35" text-anchor="middle" font-weight="bold" font-style="italic" fill="#111" stroke="#111" stroke-width="0.25">Krt15</text>
<circle cx="31.3" cy="341.5" r="2.0" fill="#3c4cbd" stroke="#2a3590" stroke-width="0.3"/>
<text x="31.3" y="348.9" font-size="5.35" text-anchor="middle" font-weight="bold" font-style="italic" fill="#111" stroke="#111" stroke-width="0.25">Tekt4</text>
<circle cx="198.4" cy="341.5" r="2.0" fill="#3c4cbd" stroke="#2a3590" stroke-width="0.3"/>
<text x="198.4" y="348.9" font-size="5.35" text-anchor="middle" font-weight="bold" font-style="italic" fill="#111" stroke="#111" stroke-width="0.25">Rsph10b</text>
<circle cx="36.7" cy="365.8" r="2.0" fill="#e3161c" stroke="#a01010" stroke-width="0.3"/>
<text x="36.7" y="372.9" font-size="5.35" text-anchor="middle" font-weight="bold" font-style="italic" fill="#111" stroke="#111" stroke-width="0.25">Pom121</text>
<circle cx="193.0" cy="365.8" r="2.0" fill="#3c4cbd" stroke="#2a3590" stroke-width="0.3"/>
<text x="193.0" y="372.9" font-size="5.35" text-anchor="middle" font-weight="bold" font-style="italic" fill="#111" stroke="#111" stroke-width="0.25">Rsph14</text>
<circle cx="49.0" cy="387.5" r="2.0" fill="#3c4cbd" stroke="#2a3590" stroke-width="0.3"/>
<text x="49.0" y="394.4" font-size="5.35" text-anchor="middle" font-weight="bold" font-style="italic" fill="#111" stroke="#111" stroke-width="0.25">Tctex1d4</text>
<circle cx="180.4" cy="387.6" r="2.0" fill="#3c4cbd" stroke="#2a3590" stroke-width="0.3"/>
<text x="180.4" y="395.9" font-size="5.35" text-anchor="middle" font-weight="bold" font-style="italic" fill="#111" stroke="#111" stroke-width="0.25">Ccdc78</text>
<circle cx="67.6" cy="404.2" r="2.0" fill="#3c4cbd" stroke="#2a3590" stroke-width="0.3"/>
<text x="67.6" y="411.4" font-size="5.35" text-anchor="middle" font-weight="bold" font-style="italic" fill="#111" stroke="#111" stroke-width="0.25">Sult1a1</text>
<circle cx="162.0" cy="404.2" r="2.0" fill="#3c4cbd" stroke="#2a3590" stroke-width="0.3"/>
<text x="162.0" y="411.4" font-size="5.35" text-anchor="middle" font-weight="bold" font-style="italic" fill="#111" stroke="#111" stroke-width="0.25">P2rx4</text>
<circle cx="89.8" cy="414.8" r="2.0" fill="#3c4cbd" stroke="#2a3590" stroke-width="0.3"/>
<text x="89.8" y="421.9" font-size="5.35" text-anchor="middle" font-weight="bold" font-style="italic" fill="#111" stroke="#111" stroke-width="0.25">Dcn</text>
<circle cx="139.0" cy="415.5" r="2.0" fill="#e3161c" stroke="#a01010" stroke-width="0.3"/>
<text x="139.0" y="422.4" font-size="5.35" text-anchor="middle" font-weight="bold" font-style="italic" fill="#111" stroke="#111" stroke-width="0.25">Hira</text>
<circle cx="115.0" cy="418.7" r="2.0" fill="#3c4cbd" stroke="#2a3590" stroke-width="0.3"/>
<text x="115.0" y="425.9" font-size="5.35" text-anchor="middle" font-weight="bold" font-style="italic" fill="#111" stroke="#111" stroke-width="0.25">Lrrc18</text>
<path d="M112.7 328.2 L115.1 332.5 L110.3 332.5 Z" fill="#fff" stroke="#333" stroke-width="0.35"/>
<text x="112.7" y="338.9" font-size="5.3" text-anchor="middle" font-weight="bold" font-style="italic" fill="#111" stroke="#111" stroke-width="0.25">mmu-miR-3102-5p</text>
<circle cx="50.5" cy="443.1" r="2.0" fill="#e3161c" stroke="#333" stroke-width="0.3"/>
<text x="58.3" y="444.6" font-size="4.2" fill="#333" textLength="37.0" lengthAdjust="spacingAndGlyphs">mRNA down in15.5</text>
<circle cx="50.5" cy="452.2" r="2.0" fill="#3c4cbd" stroke="#333" stroke-width="0.3"/>
<text x="58.3" y="453.7" font-size="4.2" fill="#333" textLength="33.0" lengthAdjust="spacingAndGlyphs">mRNA up in 15.5</text>
<circle cx="50.5" cy="460.5" r="2.0" fill="#3cb93a" stroke="#333" stroke-width="0.3"/>
<text x="58.3" y="462.0" font-size="4.2" fill="#333" textLength="33.0" lengthAdjust="spacingAndGlyphs">miRNA up in 15.5</text>
<circle cx="50.5" cy="469.2" r="2.0" fill="#fff" stroke="#666" stroke-width="0.35"/>
<text x="58.3" y="470.7" font-size="4.2" fill="#333" textLength="37.0" lengthAdjust="spacingAndGlyphs">miRNA down in 15.5</text>
<circle cx="165.3" cy="441.8" r="1.8" fill="#fff" stroke="#666" stroke-width="0.4"/>
<text x="174.0" y="443.3" font-size="4.2" fill="#333" textLength="29.0" lengthAdjust="spacingAndGlyphs">1-3 connections</text>
<circle cx="165.3" cy="453.5" r="3" fill="#fff" stroke="#666" stroke-width="0.4"/>
<text x="174.0" y="455.0" font-size="4.2" fill="#333" textLength="29.0" lengthAdjust="spacingAndGlyphs">4-5 connections</text>
<circle cx="165.3" cy="466.5" r="4.1" fill="#fff" stroke="#666" stroke-width="0.4"/>
<text x="174.0" y="468.0" font-size="4.2" fill="#333" textLength="26.0" lengthAdjust="spacingAndGlyphs">6+ connections</text>
<line x1="90" y1="483.6" x2="99" y2="483.6" stroke="#a3c9d6" stroke-width="0.8"/>
<text x="106.4" y="485.4" font-size="5.0" fill="#333" textLength="50.0" lengthAdjust="spacingAndGlyphs">connections to mRNA</text>
<path d="M101.8 552.0 Q97.2 541.4 88.2 534.0" fill="none" stroke="#e8e8e8" stroke-width="0.45"/>
<path d="M101.8 552.0 Q108.5 541.2 109.6 528.6" fill="none" stroke="#e8e8e8" stroke-width="0.45"/>
<path d="M77.0 569.0 Q75.8 555.8 68.7 544.6" fill="none" stroke="#e8e8e8" stroke-width="0.45"/>
<path d="M77.0 569.0 Q65.9 561.6 52.7 560.0" fill="none" stroke="#e8e8e8" stroke-width="0.45"/>
<path d="M134.5 567.7 Q147.7 553.1 152.9 534.0" fill="none" stroke="#e8e8e8" stroke-width="0.45"/>
<path d="M134.5 567.7 Q137.8 547.8 131.8 528.6" fill="none" stroke="#e8e8e8" stroke-width="0.45"/>
<path d="M101.8 574.0 Q99.8 552.4 88.2 534.0" fill="none" stroke="#e8e8e8" stroke-width="0.45"/>
<path d="M101.8 574.0 Q88.8 555.3 68.7 544.6" fill="none" stroke="#e8e8e8" stroke-width="0.45"/>
<path d="M166.4 578.3 Q179.5 571.8 188.2 560.0" fill="none" stroke="#e8e8e8" stroke-width="0.45"/>
<path d="M166.4 578.3 Q183.3 582.5 200.2 578.5" fill="none" stroke="#e8e8e8" stroke-width="0.45"/>
<path d="M166.4 578.3 Q163.0 631.0 180.1 681.0" fill="none" stroke="#e8e8e8" stroke-width="0.45"/>
<path d="M76.7 586.0 Q67.8 570.1 52.7 560.0" fill="none" stroke="#e8e8e8" stroke-width="0.45"/>
<path d="M76.7 586.0 Q59.7 578.0 41.0 578.6" fill="none" stroke="#e8e8e8" stroke-width="0.45"/>
<path d="M76.7 586.0 Q118.9 643.8 180.1 681.0" fill="none" stroke="#e8e8e8" stroke-width="0.45"/>
<path d="M149.0 592.8 Q172.5 581.1 188.2 560.0" fill="none" stroke="#e8e8e8" stroke-width="0.45"/>
<path d="M149.0 592.8 Q176.3 591.8 200.2 578.5" fill="none" stroke="#e8e8e8" stroke-width="0.45"/>
<path d="M149.0 592.8 Q155.7 640.0 180.1 681.0" fill="none" stroke="#e8e8e8" stroke-width="0.45"/>
<path d="M177.3 591.0 Q190.2 587.5 200.2 578.5" fill="none" stroke="#e8e8e8" stroke-width="0.45"/>
<path d="M177.3 591.0 Q191.1 598.9 207.0 599.6" fill="none" stroke="#e8e8e8" stroke-width="0.45"/>
<path d="M67.6 607.7 Q51.7 599.8 34.0 600.0" fill="none" stroke="#e8e8e8" stroke-width="0.45"/>
<path d="M67.6 607.7 Q48.4 610.8 32.7 622.2" fill="none" stroke="#e8e8e8" stroke-width="0.45"/>
<path d="M151.3 612.6 Q180.7 612.8 207.0 599.6" fill="none" stroke="#e8e8e8" stroke-width="0.45"/>
<path d="M151.3 612.6 Q178.7 624.3 208.5 622.2" fill="none" stroke="#e8e8e8" stroke-width="0.45"/>
<path d="M151.3 612.6 Q158.9 649.7 180.1 681.0" fill="none" stroke="#e8e8e8" stroke-width="0.45"/>
<path d="M170.0 612.6 Q190.1 610.5 207.0 599.6" fill="none" stroke="#e8e8e8" stroke-width="0.45"/>
<path d="M170.0 612.6 Q188.1 622.0 208.5 622.2" fill="none" stroke="#e8e8e8" stroke-width="0.45"/>
<path d="M51.0 620.0 Q41.6 618.9 32.7 622.2" fill="none" stroke="#e8e8e8" stroke-width="0.45"/>
<path d="M51.0 620.0 Q44.9 608.0 34.0 600.0" fill="none" stroke="#e8e8e8" stroke-width="0.45"/>
<path d="M51.0 620.0 Q109.5 663.4 180.1 681.0" fill="none" stroke="#e8e8e8" stroke-width="0.45"/>
<path d="M101.8 618.2 Q66.8 611.9 32.7 622.2" fill="none" stroke="#e8e8e8" stroke-width="0.45"/>
<path d="M101.8 618.2 Q66.4 623.1 37.0 643.6" fill="none" stroke="#e8e8e8" stroke-width="0.45"/>
<path d="M101.8 618.2 Q134.7 657.4 180.1 681.0" fill="none" stroke="#e8e8e8" stroke-width="0.45"/>
<path d="M124.2 621.8 Q145.0 658.1 180.1 681.0" fill="none" stroke="#e8e8e8" stroke-width="0.45"/>
<path d="M124.2 621.8 Q154.4 651.3 194.7 663.8" fill="none" stroke="#e8e8e8" stroke-width="0.45"/>
<path d="M124.2 621.8 Q146.2 657.0 180.1 681.0" fill="none" stroke="#e8e8e8" stroke-width="0.45"/>
<path d="M183.3 628.2 Q196.6 628.2 208.5 622.2" fill="none" stroke="#e8e8e8" stroke-width="0.45"/>
<path d="M183.3 628.2 Q191.9 638.6 204.2 644.0" fill="none" stroke="#e8e8e8" stroke-width="0.45"/>
<path d="M183.3 628.2 Q176.4 654.3 180.1 681.0" fill="none" stroke="#e8e8e8" stroke-width="0.45"/>
<path d="M77.0 637.6 Q58.5 647.1 46.4 664.0" fill="none" stroke="#e8e8e8" stroke-width="0.45"/>
<path d="M77.0 637.6 Q56.3 635.8 37.0 643.6" fill="none" stroke="#e8e8e8" stroke-width="0.45"/>
<path d="M128.4 639.6 Q128.0 672.6 142.6 702.2" fill="none" stroke="#e8e8e8" stroke-width="0.45"/>
<path d="M128.4 639.6 Q139.3 671.0 163.3 694.0" fill="none" stroke="#e8e8e8" stroke-width="0.45"/>
<path d="M128.4 639.6 Q150.1 665.5 180.1 681.0" fill="none" stroke="#e8e8e8" stroke-width="0.45"/>
<path d="M147.8 641.8 Q159.2 665.3 180.1 681.0" fill="none" stroke="#e8e8e8" stroke-width="0.45"/>
<path d="M147.8 641.8 Q168.6 658.4 194.7 663.8" fill="none" stroke="#e8e8e8" stroke-width="0.45"/>
<path d="M147.8 641.8 Q160.0 664.6 180.1 681.0" fill="none" stroke="#e8e8e8" stroke-width="0.45"/>
<path d="M173.8 638.5 Q188.3 644.9 204.2 644.0" fill="none" stroke="#e8e8e8" stroke-width="0.45"/>
<path d="M173.8 638.5 Q181.2 653.7 194.7 663.8" fill="none" stroke="#e8e8e8" stroke-width="0.45"/>
<path d="M101.3 644.5 Q83.7 666.5 78.0 694.0" fill="none" stroke="#e8e8e8" stroke-width="0.45"/>
<path d="M101.3 644.5 Q76.5 657.9 60.5 681.0" fill="none" stroke="#e8e8e8" stroke-width="0.45"/>
<path d="M101.3 644.5 Q137.0 670.6 180.1 681.0" fill="none" stroke="#e8e8e8" stroke-width="0.45"/>
<path d="M129.5 652.4 Q130.1 678.9 142.6 702.2" fill="none" stroke="#e8e8e8" stroke-width="0.45"/>
<path d="M129.5 652.4 Q118.7 677.6 120.5 705.0" fill="none" stroke="#e8e8e8" stroke-width="0.45"/>
<path d="M111.5 659.5 Q100.0 679.3 98.7 702.2" fill="none" stroke="#e8e8e8" stroke-width="0.45"/>
<path d="M111.5 659.5 Q110.5 683.3 120.5 705.0" fill="none" stroke="#e8e8e8" stroke-width="0.45"/>
<path d="M111.5 659.5 Q143.7 677.1 180.1 681.0" fill="none" stroke="#e8e8e8" stroke-width="0.45"/>
<path d="M167.8 664.5 Q172.0 674.2 180.1 681.0" fill="none" stroke="#e8e8e8" stroke-width="0.45"/>
<path d="M167.8 664.5 Q181.3 667.4 194.7 663.8" fill="none" stroke="#e8e8e8" stroke-width="0.45"/>
<path d="M167.8 664.5 Q172.3 674.0 180.1 681.0" fill="none" stroke="#e8e8e8" stroke-width="0.45"/>
<path d="M92.4 669.0 Q82.2 679.8 78.0 694.0" fill="none" stroke="#e8e8e8" stroke-width="0.45"/>
<path d="M92.4 669.0 Q91.6 686.4 98.7 702.2" fill="none" stroke="#e8e8e8" stroke-width="0.45"/>
<path d="M149.0 669.6 Q153.2 683.5 163.3 694.0" fill="none" stroke="#e8e8e8" stroke-width="0.45"/>
<path d="M149.0 669.6 Q163.2 679.0 180.1 681.0" fill="none" stroke="#e8e8e8" stroke-width="0.45"/>
<path d="M61.0 671.0 Q59.5 675.9 60.5 681.0" fill="none" stroke="#e8e8e8" stroke-width="0.45"/>
<path d="M61.0 671.0 Q54.5 665.7 46.4 664.0" fill="none" stroke="#e8e8e8" stroke-width="0.45"/>
<path d="M129.0 677.8 Q132.9 691.6 142.6 702.2" fill="none" stroke="#e8e8e8" stroke-width="0.45"/>
<path d="M129.0 677.8 Q121.5 690.4 120.5 705.0" fill="none" stroke="#e8e8e8" stroke-width="0.45"/>
<path d="M129.0 677.8 Q154.2 684.5 180.1 681.0" fill="none" stroke="#e8e8e8" stroke-width="0.45"/>
<path d="M110.4 595.4 Q104.0 545.0 131.8 528.6" fill="none" stroke="#a3c9d6" stroke-width="1.0"/>
<path d="M110.4 595.4 Q165.0 572.0 207.0 599.6" fill="none" stroke="#a3c9d6" stroke-width="1.0"/>
<path d="M110.4 595.4 Q165.0 585.0 208.5 622.2" fill="none" stroke="#a3c9d6" stroke-width="1.0"/>
<path d="M110.4 595.4 Q75.0 625.0 32.7 622.2" fill="none" stroke="#a3c9d6" stroke-width="1.0"/>
<path d="M110.4 595.4 Q85.0 640.0 37.0 643.6" fill="none" stroke="#a3c9d6" stroke-width="1.0"/>
<path d="M110.4 595.4 Q118.0 660.0 78.0 694.0" fill="none" stroke="#a3c9d6" stroke-width="1.0"/>
<circle cx="101.8" cy="552.0" r="1.9" fill="#fff" stroke="#666" stroke-width="0.35"/>
<text x="101.8" y="555.5" font-size="2.1" text-anchor="middle" fill="#333" stroke="#333" stroke-width="0.07">mmu-miR-2694-3p</text>
<circle cx="77.0" cy="569.0" r="1.9" fill="#fff" stroke="#666" stroke-width="0.35"/>
<text x="77.0" y="572.5" font-size="2.1" text-anchor="middle" fill="#333" stroke="#333" stroke-width="0.07">mmu-miR-6821-5p</text>
<circle cx="134.5" cy="567.7" r="1.9" fill="#fff" stroke="#666" stroke-width="0.35"/>
<text x="134.5" y="571.2" font-size="2.1" text-anchor="middle" fill="#333" stroke="#333" stroke-width="0.07">mmu-miR-4634-3p</text>
<circle cx="101.8" cy="574.0" r="1.9" fill="#fff" stroke="#666" stroke-width="0.35"/>
<text x="101.8" y="577.5" font-size="2.1" text-anchor="middle" fill="#333" stroke="#333" stroke-width="0.07">mmu-miR-5491-3p</text>
<circle cx="166.4" cy="578.3" r="1.9" fill="#fff" stroke="#666" stroke-width="0.35"/>
<text x="166.4" y="581.8" font-size="2.1" text-anchor="middle" fill="#333" stroke="#333" stroke-width="0.07">mmu-miR-2554-5p</text>
<circle cx="76.7" cy="586.0" r="1.9" fill="#fff" stroke="#666" stroke-width="0.35"/>
<text x="76.7" y="589.5" font-size="2.1" text-anchor="middle" fill="#333" stroke="#333" stroke-width="0.07">mmu-miR-3686-5p</text>
<circle cx="149.0" cy="592.8" r="1.9" fill="#fff" stroke="#666" stroke-width="0.35"/>
<text x="149.0" y="596.3" font-size="2.1" text-anchor="middle" fill="#333" stroke="#333" stroke-width="0.07">mmu-miR-4116-3p</text>
<circle cx="177.3" cy="591.0" r="1.9" fill="#fff" stroke="#666" stroke-width="0.35"/>
<text x="177.3" y="594.5" font-size="2.1" text-anchor="middle" fill="#333" stroke="#333" stroke-width="0.07">mmu-miR-2890-3p</text>
<circle cx="67.6" cy="607.7" r="1.9" fill="#fff" stroke="#666" stroke-width="0.35"/>
<text x="67.6" y="611.2" font-size="2.1" text-anchor="middle" fill="#333" stroke="#333" stroke-width="0.07">mmu-miR-6238-3p</text>
<circle cx="151.3" cy="612.6" r="1.9" fill="#fff" stroke="#666" stroke-width="0.35"/>
<text x="151.3" y="616.1" font-size="2.1" text-anchor="middle" fill="#333" stroke="#333" stroke-width="0.07">mmu-miR-4481-3p</text>
<circle cx="170.0" cy="612.6" r="1.9" fill="#fff" stroke="#666" stroke-width="0.35"/>
<text x="170.0" y="616.1" font-size="2.1" text-anchor="middle" fill="#333" stroke="#333" stroke-width="0.07">mmu-miR-4182-5p</text>
<circle cx="51.0" cy="620.0" r="1.9" fill="#fff" stroke="#666" stroke-width="0.35"/>
<text x="51.0" y="623.5" font-size="2.1" text-anchor="middle" fill="#333" stroke="#333" stroke-width="0.07">mmu-miR-2600-5p</text>
<circle cx="101.8" cy="618.2" r="1.9" fill="#fff" stroke="#666" stroke-width="0.35"/>
<text x="101.8" y="621.7" font-size="2.1" text-anchor="middle" fill="#333" stroke="#333" stroke-width="0.07">mmu-miR-6729-3p</text>
<circle cx="124.2" cy="621.8" r="1.9" fill="#fff" stroke="#666" stroke-width="0.35"/>
<text x="124.2" y="625.3" font-size="2.1" text-anchor="middle" fill="#333" stroke="#333" stroke-width="0.07">mmu-miR-5351-5p</text>
<circle cx="183.3" cy="628.2" r="1.9" fill="#fff" stroke="#666" stroke-width="0.35"/>
<text x="183.3" y="631.7" font-size="2.1" text-anchor="middle" fill="#333" stroke="#333" stroke-width="0.07">mmu-miR-6146-5p</text>
<circle cx="77.0" cy="637.6" r="1.9" fill="#fff" stroke="#666" stroke-width="0.35"/>
<text x="77.0" y="641.1" font-size="2.1" text-anchor="middle" fill="#333" stroke="#333" stroke-width="0.07">mmu-miR-5706-5p</text>
<circle cx="128.4" cy="639.6" r="1.9" fill="#fff" stroke="#666" stroke-width="0.35"/>
<text x="128.4" y="643.1" font-size="2.1" text-anchor="middle" fill="#333" stroke="#333" stroke-width="0.07">mmu-miR-7095-5p</text>
<circle cx="147.8" cy="641.8" r="1.9" fill="#fff" stroke="#666" stroke-width="0.35"/>
<text x="147.8" y="645.3" font-size="2.1" text-anchor="middle" fill="#333" stroke="#333" stroke-width="0.07">mmu-miR-4278-5p</text>
<circle cx="173.8" cy="638.5" r="1.9" fill="#fff" stroke="#666" stroke-width="0.35"/>
<text x="173.8" y="642.0" font-size="2.1" text-anchor="middle" fill="#333" stroke="#333" stroke-width="0.07">mmu-miR-6555-5p</text>
<circle cx="101.3" cy="644.5" r="1.9" fill="#3cb93a" stroke="#2a8a2a" stroke-width="0.3"/>
<text x="101.3" y="648.0" font-size="2.1" text-anchor="middle" fill="#333" stroke="#333" stroke-width="0.07">mmu-miR-2191-5p</text>
<circle cx="129.5" cy="652.4" r="1.9" fill="#fff" stroke="#666" stroke-width="0.35"/>
<text x="129.5" y="655.9" font-size="2.1" text-anchor="middle" fill="#333" stroke="#333" stroke-width="0.07">mmu-miR-3177-3p</text>
<circle cx="111.5" cy="659.5" r="1.9" fill="#fff" stroke="#666" stroke-width="0.35"/>
<text x="111.5" y="663.0" font-size="2.1" text-anchor="middle" fill="#333" stroke="#333" stroke-width="0.07">mmu-miR-1938-5p</text>
<circle cx="167.8" cy="664.5" r="1.9" fill="#fff" stroke="#666" stroke-width="0.35"/>
<text x="167.8" y="668.0" font-size="2.1" text-anchor="middle" fill="#333" stroke="#333" stroke-width="0.07">mmu-miR-7000-5p</text>
<circle cx="92.4" cy="669.0" r="1.9" fill="#fff" stroke="#666" stroke-width="0.35"/>
<text x="92.4" y="672.5" font-size="2.1" text-anchor="middle" fill="#333" stroke="#333" stroke-width="0.07">mmu-miR-6478-3p</text>
<circle cx="149.0" cy="669.6" r="1.9" fill="#fff" stroke="#666" stroke-width="0.35"/>
<text x="149.0" y="673.1" font-size="2.1" text-anchor="middle" fill="#333" stroke="#333" stroke-width="0.07">mmu-miR-2164-5p</text>
<circle cx="61.0" cy="671.0" r="1.9" fill="#fff" stroke="#666" stroke-width="0.35"/>
<text x="61.0" y="674.5" font-size="2.1" text-anchor="middle" fill="#333" stroke="#333" stroke-width="0.07">mmu-miR-6151-5p</text>
<circle cx="129.0" cy="677.8" r="1.9" fill="#fff" stroke="#666" stroke-width="0.35"/>
<text x="129.0" y="681.3" font-size="2.1" text-anchor="middle" fill="#333" stroke="#333" stroke-width="0.07">mmu-miR-6355-5p</text>
<circle cx="109.6" cy="528.6" r="1.7" fill="#3c4cbd" stroke="#2a3590" stroke-width="0.3"/>
<text x="109.6" y="535.0" font-size="4.5" text-anchor="middle" font-weight="bold" font-style="italic" fill="#111" stroke="#111" stroke-width="0.22">Dnaaf1</text>
<circle cx="131.8" cy="528.6" r="1.7" fill="#3c4cbd" stroke="#2a3590" stroke-width="0.3"/>
<text x="131.8" y="535.0" font-size="4.5" text-anchor="middle" font-weight="bold" font-style="italic" fill="#111" stroke="#111" stroke-width="0.22">Kndc1</text>
<circle cx="88.2" cy="534.0" r="1.7" fill="#3c4cbd" stroke="#2a3590" stroke-width="0.3"/>
<text x="88.2" y="542.6" font-size="4.5" text-anchor="middle" font-weight="bold" font-style="italic" fill="#111" stroke="#111" stroke-width="0.22">Dnah10</text>
<circle cx="152.9" cy="534.0" r="1.7" fill="#3c4cbd" stroke="#2a3590" stroke-width="0.3"/>
<text x="152.9" y="540.4" font-size="4.5" text-anchor="middle" font-weight="bold" font-style="italic" fill="#111" stroke="#111" stroke-width="0.22">Clec11a</text>
<circle cx="68.7" cy="544.6" r="1.7" fill="#3c4cbd" stroke="#2a3590" stroke-width="0.3"/>
<text x="68.7" y="550.8" font-size="4.5" text-anchor="middle" font-weight="bold" font-style="italic" fill="#111" stroke="#111" stroke-width="0.22">Ccdc151</text>
<circle cx="172.4" cy="544.6" r="1.7" fill="#3c4cbd" stroke="#2a3590" stroke-width="0.3"/>
<text x="172.4" y="550.8" font-size="4.5" text-anchor="middle" font-weight="bold" font-style="italic" fill="#111" stroke="#111" stroke-width="0.22">Cav2</text>
<circle cx="52.7" cy="560.0" r="1.7" fill="#3c4cbd" stroke="#2a3590" stroke-width="0.3"/>
<text x="52.7" y="565.8" font-size="4.5" text-anchor="middle" font-weight="bold" font-style="italic" fill="#111" stroke="#111" stroke-width="0.22">Trim7</text>
<circle cx="188.2" cy="560.0" r="1.7" fill="#3c4cbd" stroke="#2a3590" stroke-width="0.3"/>
<text x="188.2" y="565.8" font-size="4.5" text-anchor="middle" font-weight="bold" font-style="italic" fill="#111" stroke="#111" stroke-width="0.22">Tmeff1</text>
<circle cx="41.0" cy="578.6" r="1.7" fill="#3c4cbd" stroke="#2a3590" stroke-width="0.3"/>
<text x="41.0" y="585.1" font-size="4.5" text-anchor="middle" font-weight="bold" font-style="italic" fill="#111" stroke="#111" stroke-width="0.22">Col5a3</text>
<circle cx="200.2" cy="578.5" r="1.7" fill="#3c4cbd" stroke="#2a3590" stroke-width="0.3"/>
<text x="200.2" y="584.9" font-size="4.5" text-anchor="middle" font-weight="bold" font-style="italic" fill="#111" stroke="#111" stroke-width="0.22">Dsg2</text>
<circle cx="34.0" cy="600.0" r="1.7" fill="#3c4cbd" stroke="#2a3590" stroke-width="0.3"/>
<text x="34.0" y="610.8" font-size="4.5" text-anchor="middle" font-weight="bold" font-style="italic" fill="#111" stroke="#111" stroke-width="0.22">Fmod</text>
<circle cx="207.0" cy="599.6" r="2.7" fill="#3c4cbd" stroke="#2a3590" stroke-width="0.3"/>
<text x="207.0" y="606.6" font-size="4.5" text-anchor="middle" font-weight="bold" font-style="italic" fill="#111" stroke="#111" stroke-width="0.22">Rgs5</text>
<circle cx="32.7" cy="622.2" r="1.7" fill="#3c4cbd" stroke="#2a3590" stroke-width="0.3"/>
<text x="32.7" y="628.2" font-size="4.5" text-anchor="middle" font-weight="bold" font-style="italic" fill="#111" stroke="#111" stroke-width="0.22">Krt15</text>
<circle cx="208.5" cy="622.2" r="1.7" fill="#3c4cbd" stroke="#2a3590" stroke-width="0.3"/>
<text x="208.5" y="628.3" font-size="4.5" text-anchor="middle" font-weight="bold" font-style="italic" fill="#111" stroke="#111" stroke-width="0.22">Lrrc23</text>
<circle cx="37.0" cy="643.6" r="1.7" fill="#3c4cbd" stroke="#2a3590" stroke-width="0.3"/>
<text x="37.0" y="649.8" font-size="4.5" text-anchor="middle" font-weight="bold" font-style="italic" fill="#111" stroke="#111" stroke-width="0.22">Ttc25</text>
<circle cx="204.2" cy="644.0" r="1.7" fill="#3c4cbd" stroke="#2a3590" stroke-width="0.3"/>
<text x="204.2" y="649.8" font-size="4.5" text-anchor="middle" font-weight="bold" font-style="italic" fill="#111" stroke="#111" stroke-width="0.22">Ccdc194</text>
<circle cx="46.4" cy="664.0" r="1.7" fill="#e3161c" stroke="#a01010" stroke-width="0.3"/>
<text x="46.4" y="670.3" font-size="4.5" text-anchor="middle" font-weight="bold" font-style="italic" fill="#111" stroke="#111" stroke-width="0.22">Hba-x</text>
<circle cx="194.7" cy="663.8" r="1.7" fill="#3c4cbd" stroke="#2a3590" stroke-width="0.3"/>
<text x="194.7" y="670.3" font-size="4.5" text-anchor="middle" font-weight="bold" font-style="italic" fill="#111" stroke="#111" stroke-width="0.22">Dnali1</text>
<circle cx="60.5" cy="681.0" r="1.7" fill="#3c4cbd" stroke="#2a3590" stroke-width="0.3"/>
<text x="74.8" y="687.1" font-size="4.5" text-anchor="middle" font-weight="bold" font-style="italic" fill="#111" stroke="#111" stroke-width="0.22">6820408C15Rik</text>
<circle cx="180.1" cy="681.0" r="3.4" fill="#3c4cbd" stroke="#2a3590" stroke-width="0.3"/>
<text x="180.1" y="689.2" font-size="4.5" text-anchor="middle" font-weight="bold" font-style="italic" fill="#111" stroke="#111" stroke-width="0.22">2410004P03Rik</text>
<circle cx="78.0" cy="694.0" r="1.7" fill="#3c4cbd" stroke="#2a3590" stroke-width="0.3"/>
<text x="78.0" y="699.6" font-size="4.5" text-anchor="middle" font-weight="bold" font-style="italic" fill="#111" stroke="#111" stroke-width="0.22">Lox</text>
<circle cx="163.3" cy="694.0" r="1.7" fill="#3c4cbd" stroke="#2a3590" stroke-width="0.3"/>
<text x="163.3" y="699.4" font-size="4.5" text-anchor="middle" font-weight="bold" font-style="italic" fill="#111" stroke="#111" stroke-width="0.22">Fbxo5</text>
<circle cx="98.7" cy="702.2" r="1.7" fill="#3c4cbd" stroke="#2a3590" stroke-width="0.3"/>
<text x="98.7" y="708.1" font-size="4.5" text-anchor="middle" font-weight="bold" font-style="italic" fill="#111" stroke="#111" stroke-width="0.22">Vwde</text>
<circle cx="120.5" cy="705.0" r="1.7" fill="#3c4cbd" stroke="#2a3590" stroke-width="0.3"/>
<text x="120.5" y="711.1" font-size="4.5" text-anchor="middle" font-weight="bold" font-style="italic" fill="#111" stroke="#111" stroke-width="0.22">Hdc</text>
<circle cx="142.6" cy="702.2" r="1.7" fill="#3c4cbd" stroke="#2a3590" stroke-width="0.3"/>
<text x="142.6" y="708.1" font-size="4.5" text-anchor="middle" font-weight="bold" font-style="italic" fill="#111" stroke="#111" stroke-width="0.22">Lrrc18</text>
<path d="M110.4 593.3 L112.3 596.8 L108.5 596.8 Z" fill="#fff" stroke="#333" stroke-width="0.35"/>
<text x="110.4" y="602.1" font-size="4.6" text-anchor="middle" font-weight="bold" font-style="italic" fill="#111" stroke="#111" stroke-width="0.22">mmu-miR-673-3p</text>
<circle cx="68.1" cy="724.6" r="1.6" fill="#e3161c" stroke="#333" stroke-width="0.3"/>
<text x="75.1" y="725.9" font-size="3.6" fill="#555" textLength="29.4" lengthAdjust="spacingAndGlyphs">mRNA down in15.5</text>
<circle cx="68.1" cy="732.1" r="1.6" fill="#3c4cbd" stroke="#333" stroke-width="0.3"/>
<text x="75.1" y="733.4" font-size="3.6" fill="#555" textLength="26.0" lengthAdjust="spacingAndGlyphs">mRNA up in 15.5</text>
<circle cx="68.1" cy="739.4" r="1.6" fill="#3cb93a" stroke="#333" stroke-width="0.3"/>
<text x="75.1" y="740.7" font-size="3.6" fill="#555" textLength="26.0" lengthAdjust="spacingAndGlyphs">miRNA up in 15.5</text>
<circle cx="68.1" cy="747" r="1.6" fill="#fff" stroke="#666" stroke-width="0.35"/>
<text x="75.1" y="748.3" font-size="3.6" fill="#555" textLength="29.4" lengthAdjust="spacingAndGlyphs">miRNA down in 15.5</text>
<circle cx="163.3" cy="723.4" r="1.8" fill="#fff" stroke="#666" stroke-width="0.4"/>
<text x="172.0" y="724.7" font-size="3.6" fill="#555" textLength="24.0" lengthAdjust="spacingAndGlyphs">1-3 connections</text>
<circle cx="163.3" cy="734" r="2.6" fill="#fff" stroke="#666" stroke-width="0.4"/>
<text x="172.0" y="735.3" font-size="3.6" fill="#555" textLength="24.0" lengthAdjust="spacingAndGlyphs">4-5 connections</text>
<circle cx="163.3" cy="745.2" r="3.7" fill="#fff" stroke="#666" stroke-width="0.4"/>
<text x="172.0" y="746.5" font-size="3.6" fill="#555" textLength="22.0" lengthAdjust="spacingAndGlyphs">6+ connections</text>
<line x1="108" y1="759.5" x2="115.3" y2="759.5" stroke="#a3c9d6" stroke-width="0.8"/>
<text x="119.0" y="760.8" font-size="3.6" fill="#555" textLength="34.0" lengthAdjust="spacingAndGlyphs">connections to mRNA</text>
<line x1="393.0" y1="21.3" x2="393.0" y2="207.2" stroke="#f4f4f4" stroke-width="0.5"/><line x1="418.4" y1="21.3" x2="418.4" y2="207.2" stroke="#f4f4f4" stroke-width="0.5"/><line x1="443.9" y1="21.3" x2="443.9" y2="207.2" stroke="#f4f4f4" stroke-width="0.5"/><line x1="469.4" y1="21.3" x2="469.4" y2="207.2" stroke="#f4f4f4" stroke-width="0.5"/><line x1="494.9" y1="21.3" x2="494.9" y2="207.2" stroke="#f4f4f4" stroke-width="0.5"/><line x1="381.3" y1="27.2" x2="515.8" y2="27.2" stroke="#ebebeb" stroke-width="0.6"/><line x1="381.3" y1="36.4" x2="515.8" y2="36.4" stroke="#ebebeb" stroke-width="0.6"/><line x1="381.3" y1="45.6" x2="515.8" y2="45.6" stroke="#ebebeb" stroke-width="0.6"/><line x1="381.3" y1="54.8" x2="515.8" y2="54.8" stroke="#ebebeb" stroke-width="0.6"/><line x1="381.3" y1="64.0" x2="515.8" y2="64.0" stroke="#ebebeb" stroke-width="0.6"/><line x1="381.3" y1="73.2" x2="515.8" y2="73.2" stroke="#ebebeb" stroke-width="0.6"/><line x1="381.3" y1="82.4" x2="515.8" y2="82.4" stroke="#ebebeb" stroke-width="0.6"/><line x1="381.3" y1="91.6" x2="515.8" y2="91.6" stroke="#ebebeb" stroke-width="0.6"/><line x1="381.3" y1="100.8" x2="515.8" y2="100.8" stroke="#ebebeb" stroke-width="0.6"/><line x1="381.3" y1="110.0" x2="515.8" y2="110.0" stroke="#ebebeb" stroke-width="0.6"/><line x1="381.3" y1="119.2" x2="515.8" y2="119.2" stroke="#ebebeb" stroke-width="0.6"/><line x1="381.3" y1="128.3" x2="515.8" y2="128.3" stroke="#ebebeb" stroke-width="0.6"/><line x1="381.3" y1="137.5" x2="515.8" y2="137.5" stroke="#ebebeb" stroke-width="0.6"/><line x1="381.3" y1="146.7" x2="515.8" y2="146.7" stroke="#ebebeb" stroke-width="0.6"/><line x1="381.3" y1="155.9" x2="515.8" y2="155.9" stroke="#ebebeb" stroke-width="0.6"/><line x1="381.3" y1="165.1" x2="515.8" y2="165.1" stroke="#ebebeb" stroke-width="0.6"/><line x1="381.3" y1="174.3" x2="515.8" y2="174.3" stroke="#ebebeb" stroke-width="0.6"/><line x1="381.3" y1="183.5" x2="515.8" y2="183.5" stroke="#ebebeb" stroke-width="0.6"/><line x1="381.3" y1="192.7" x2="515.8" y2="192.7" stroke="#ebebeb" stroke-width="0.6"/><line x1="381.3" y1="201.9" x2="515.8" y2="201.9" stroke="#ebebeb" stroke-width="0.6"/><line x1="405.7" y1="21.3" x2="405.7" y2="207.2" stroke="#ebebeb" stroke-width="0.6"/><line x1="431.2" y1="21.3" x2="431.2" y2="207.2" stroke="#ebebeb" stroke-width="0.6"/><line x1="456.7" y1="21.3" x2="456.7" y2="207.2" stroke="#ebebeb" stroke-width="0.6"/><line x1="482.2" y1="21.3" x2="482.2" y2="207.2" stroke="#ebebeb" stroke-width="0.6"/><line x1="507.7" y1="21.3" x2="507.7" y2="207.2" stroke="#ebebeb" stroke-width="0.6"/>
<rect x="381.3" y="21.3" width="134.5" height="185.9" fill="none" stroke="#b0b0b0" stroke-width="0.7"/>
<line x1="379.8" y1="27.2" x2="381.3" y2="27.2" stroke="#444" stroke-width="0.5"/>
<text x="378.9" y="29.1" font-size="5.2" text-anchor="end" font-weight="bold" fill="#111" stroke="#111" stroke-width="0.15">extracellular matrix organization</text>
<line x1="379.8" y1="36.4" x2="381.3" y2="36.4" stroke="#444" stroke-width="0.5"/>
<text x="378.9" y="38.3" font-size="5.2" text-anchor="end" font-weight="bold" fill="#111" stroke="#111" stroke-width="0.15">extracellular structure organization</text>
<line x1="379.8" y1="45.6" x2="381.3" y2="45.6" stroke="#444" stroke-width="0.5"/>
<text x="378.9" y="47.5" font-size="5.2" text-anchor="end" font-weight="bold" fill="#111" stroke="#111" stroke-width="0.15">external encapsulating structure organization</text>
<line x1="379.8" y1="54.8" x2="381.3" y2="54.8" stroke="#444" stroke-width="0.5"/>
<text x="378.9" y="56.7" font-size="5.2" text-anchor="end" font-weight="bold" fill="#111" stroke="#111" stroke-width="0.15">biomineral tissue development</text>
<line x1="379.8" y1="64.0" x2="381.3" y2="64.0" stroke="#444" stroke-width="0.5"/>
<text x="378.9" y="65.9" font-size="5.2" text-anchor="end" font-weight="bold" fill="#111" stroke="#111" stroke-width="0.15">bone mineralization</text>
<line x1="379.8" y1="73.2" x2="381.3" y2="73.2" stroke="#444" stroke-width="0.5"/>
<text x="378.9" y="75.0" font-size="5.2" text-anchor="end" font-weight="bold" fill="#111" stroke="#111" stroke-width="0.15">ossification</text>
<line x1="379.8" y1="82.4" x2="381.3" y2="82.4" stroke="#444" stroke-width="0.5"/>
<text x="378.9" y="84.2" font-size="5.2" text-anchor="end" font-weight="bold" fill="#111" stroke="#111" stroke-width="0.15">artery smooth muscle contraction</text>
<line x1="379.8" y1="91.6" x2="381.3" y2="91.6" stroke="#444" stroke-width="0.5"/>
<text x="378.9" y="93.4" font-size="5.2" text-anchor="end" font-weight="bold" fill="#111" stroke="#111" stroke-width="0.15">tonic smooth muscle contraction</text>
<line x1="379.8" y1="100.8" x2="381.3" y2="100.8" stroke="#444" stroke-width="0.5"/>
<text x="378.9" y="102.6" font-size="5.2" text-anchor="end" font-weight="bold" fill="#111" stroke="#111" stroke-width="0.15">regulation of amnio acid transmembrane transport</text>
<line x1="379.8" y1="110.0" x2="381.3" y2="110.0" stroke="#444" stroke-width="0.5"/>
<text x="378.9" y="111.8" font-size="5.2" text-anchor="end" font-weight="bold" fill="#111" stroke="#111" stroke-width="0.15">regulation of amnio acid import across plasma membrane</text>
<line x1="379.8" y1="119.2" x2="381.3" y2="119.2" stroke="#444" stroke-width="0.5"/>
<text x="378.9" y="121.0" font-size="5.2" text-anchor="end" font-weight="bold" fill="#111" stroke="#111" stroke-width="0.15">cellular response to peptide</text>
<line x1="379.8" y1="128.3" x2="381.3" y2="128.3" stroke="#444" stroke-width="0.5"/>
<text x="378.9" y="130.2" font-size="5.2" text-anchor="end" font-weight="bold" fill="#111" stroke="#111" stroke-width="0.15">odontogenesis</text>
<line x1="379.8" y1="137.5" x2="381.3" y2="137.5" stroke="#444" stroke-width="0.5"/>
<text x="378.9" y="139.4" font-size="5.2" text-anchor="end" font-weight="bold" fill="#111" stroke="#111" stroke-width="0.15">insulin receptor signaling pathway</text>
<line x1="379.8" y1="146.7" x2="381.3" y2="146.7" stroke="#444" stroke-width="0.5"/>
<text x="378.9" y="148.6" font-size="5.2" text-anchor="end" font-weight="bold" fill="#111" stroke="#111" stroke-width="0.15">intracellular sodium ion homeostasis</text>
<line x1="379.8" y1="155.9" x2="381.3" y2="155.9" stroke="#444" stroke-width="0.5"/>
<text x="378.9" y="157.8" font-size="5.2" text-anchor="end" font-weight="bold" fill="#111" stroke="#111" stroke-width="0.15">vascular associated smooth muscle contraction</text>
<line x1="379.8" y1="165.1" x2="381.3" y2="165.1" stroke="#444" stroke-width="0.5"/>
<text x="378.9" y="167.0" font-size="5.2" text-anchor="end" font-weight="bold" fill="#111" stroke="#111" stroke-width="0.15">regulation of steroid hormone secretion</text>
<line x1="379.8" y1="174.3" x2="381.3" y2="174.3" stroke="#444" stroke-width="0.5"/>
<text x="378.9" y="176.2" font-size="5.2" text-anchor="end" font-weight="bold" fill="#111" stroke="#111" stroke-width="0.15">positive regulation of amino acid transport</text>
<line x1="379.8" y1="183.5" x2="381.3" y2="183.5" stroke="#444" stroke-width="0.5"/>
<text x="378.9" y="185.4" font-size="5.2" text-anchor="end" font-weight="bold" fill="#111" stroke="#111" stroke-width="0.15">steroid hormone secretion</text>
<line x1="379.8" y1="192.7" x2="381.3" y2="192.7" stroke="#444" stroke-width="0.5"/>
<text x="378.9" y="194.6" font-size="5.2" text-anchor="end" font-weight="bold" fill="#111" stroke="#111" stroke-width="0.15">chondrocyte development</text>
<line x1="379.8" y1="201.9" x2="381.3" y2="201.9" stroke="#444" stroke-width="0.5"/>
<text x="378.9" y="203.8" font-size="5.2" text-anchor="end" font-weight="bold" fill="#111" stroke="#111" stroke-width="0.15">regulation of tube diameter</text>
<line x1="405.7" y1="207.2" x2="405.7" y2="208.7" stroke="#444" stroke-width="0.5"/>
<text x="405.7" y="211.5" font-size="3.0" text-anchor="middle" fill="#444">4</text>
<line x1="431.2" y1="207.2" x2="431.2" y2="208.7" stroke="#444" stroke-width="0.5"/>
<text x="431.2" y="211.5" font-size="3.0" text-anchor="middle" fill="#444">5</text>
<line x1="456.7" y1="207.2" x2="456.7" y2="208.7" stroke="#444" stroke-width="0.5"/>
<text x="456.7" y="211.5" font-size="3.0" text-anchor="middle" fill="#444">6</text>
<line x1="482.2" y1="207.2" x2="482.2" y2="208.7" stroke="#444" stroke-width="0.5"/>
<text x="482.2" y="211.5" font-size="3.0" text-anchor="middle" fill="#444">7</text>
<line x1="507.7" y1="207.2" x2="507.7" y2="208.7" stroke="#444" stroke-width="0.5"/>
<text x="507.7" y="211.5" font-size="3.0" text-anchor="middle" fill="#444">8</text>
<text x="451.0" y="220.0" font-size="5.1" text-anchor="middle" fill="#111">-log10(pvalue)</text>
<text x="381.0" y="18.9" font-size="4.6" fill="#111">GO Enrichment - Biological Process</text>
<circle cx="509.2" cy="27.2" r="4.15" fill="#ff0014"/>
<circle cx="509.2" cy="36.4" r="4.15" fill="#ff0014"/>
<circle cx="509.2" cy="45.6" r="4.15" fill="#ff0014"/>
<circle cx="465.0" cy="54.8" r="3.5500000000000003" fill="#f3085a"/>
<circle cx="437.4" cy="64.0" r="3.0500000000000003" fill="#e10eb6"/>
<circle cx="418.3" cy="73.2" r="3.6500000000000004" fill="#b010d8"/>
<circle cx="413.2" cy="82.4" r="1.15" fill="#9f10dd"/>
<circle cx="410.0" cy="91.6" r="1.15" fill="#9310e1"/>
<circle cx="401.5" cy="100.8" r="1.15" fill="#7610e9"/>
<circle cx="401.5" cy="110.0" r="1.15" fill="#7610e9"/>
<circle cx="397.6" cy="119.2" r="3.25" fill="#6910ed"/>
<circle cx="397.6" cy="128.3" r="2.6500000000000004" fill="#6910ed"/>
<circle cx="394.5" cy="137.5" r="2.85" fill="#5a0ff1"/>
<circle cx="394.5" cy="146.7" r="1.15" fill="#5a0ff1"/>
<circle cx="393.0" cy="155.9" r="1.15" fill="#4c0cf3"/>
<circle cx="393.0" cy="165.1" r="1.15" fill="#4c0cf3"/>
<circle cx="390.2" cy="174.3" r="1.15" fill="#3107f6"/>
<circle cx="389.6" cy="183.5" r="1.15" fill="#2b05f7"/>
<circle cx="388.7" cy="192.7" r="1.15" fill="#2204f8"/>
<circle cx="386.8" cy="201.9" r="2.85" fill="#1000fa"/>
<defs><linearGradient id="gB" x1="0" y1="0" x2="0" y2="1"><stop offset="0.0" stop-color="#ff0014"/><stop offset="0.1" stop-color="#fc0227"/><stop offset="0.2" stop-color="#f9053a"/><stop offset="0.3" stop-color="#f6074d"/><stop offset="0.4" stop-color="#f0096a"/><stop offset="0.5" stop-color="#e80c93"/><stop offset="0.6" stop-color="#e00fbb"/><stop offset="0.7" stop-color="#c310d3"/><stop offset="0.8" stop-color="#9810df"/><stop offset="0.9" stop-color="#6e10ec"/><stop offset="1.0" stop-color="#1000fa"/></linearGradient></defs>
<rect x="521.1" y="71.9" width="6.1" height="30.8" fill="url(#gB)"/>
<text x="518.3" y="67.4" font-size="4.3" fill="#111">-log10(pvalue)</text>
<line x1="526.2" y1="72.2" x2="527.2" y2="72.2" stroke="#fff" stroke-width="0.3"/>
<text x="529.5" y="73.2" font-size="3.0" fill="#333">8</text>
<line x1="526.2" y1="78.7" x2="527.2" y2="78.7" stroke="#fff" stroke-width="0.3"/>
<text x="529.5" y="79.7" font-size="3.0" fill="#333">7</text>
<line x1="526.2" y1="85.2" x2="527.2" y2="85.2" stroke="#fff" stroke-width="0.3"/>
<text x="529.5" y="86.2" font-size="3.0" fill="#333">6</text>
<line x1="526.2" y1="91.7" x2="527.2" y2="91.7" stroke="#fff" stroke-width="0.3"/>
<text x="529.5" y="92.7" font-size="3.0" fill="#333">5</text>
<line x1="526.2" y1="98.2" x2="527.2" y2="98.2" stroke="#fff" stroke-width="0.3"/>
<text x="529.5" y="99.2" font-size="3.0" fill="#333">4</text>
<text x="521.0" y="114.0" font-size="4.3" fill="#111">Count</text>
<circle cx="525.7" cy="119.2" r="0.8" fill="#000"/>
<text x="533.0" y="120.2" font-size="3.0" fill="#333">2</text>
<circle cx="525.7" cy="125.2" r="2.1" fill="#000"/>
<text x="533.0" y="126.2" font-size="3.0" fill="#333">3</text>
<circle cx="525.7" cy="131.9" r="2.8" fill="#000"/>
<text x="533.0" y="132.9" font-size="3.0" fill="#333">4</text>
<circle cx="525.7" cy="139.6" r="3.2" fill="#000"/>
<text x="533.0" y="140.6" font-size="3.0" fill="#333">5</text>
<circle cx="525.7" cy="148.4" r="3.5" fill="#000"/>
<text x="533.0" y="149.4" font-size="3.0" fill="#333">6</text>
<circle cx="525.7" cy="157.7" r="3.9" fill="#000"/>
<text x="533.0" y="158.7" font-size="3.0" fill="#333">7</text>
<line x1="398.6" y1="267.5" x2="398.6" y2="479.5" stroke="#f4f4f4" stroke-width="0.5"/><line x1="434.1" y1="267.5" x2="434.1" y2="479.5" stroke="#f4f4f4" stroke-width="0.5"/><line x1="469.6" y1="267.5" x2="469.6" y2="479.5" stroke="#f4f4f4" stroke-width="0.5"/><line x1="505.1" y1="267.5" x2="505.1" y2="479.5" stroke="#f4f4f4" stroke-width="0.5"/><line x1="383" y1="272.8" x2="514" y2="272.8" stroke="#ebebeb" stroke-width="0.6"/><line x1="383" y1="283.4" x2="514" y2="283.4" stroke="#ebebeb" stroke-width="0.6"/><line x1="383" y1="294.1" x2="514" y2="294.1" stroke="#ebebeb" stroke-width="0.6"/><line x1="383" y1="304.7" x2="514" y2="304.7" stroke="#ebebeb" stroke-width="0.6"/><line x1="383" y1="315.4" x2="514" y2="315.4" stroke="#ebebeb" stroke-width="0.6"/><line x1="383" y1="326.0" x2="514" y2="326.0" stroke="#ebebeb" stroke-width="0.6"/><line x1="383" y1="336.6" x2="514" y2="336.6" stroke="#ebebeb" stroke-width="0.6"/><line x1="383" y1="347.3" x2="514" y2="347.3" stroke="#ebebeb" stroke-width="0.6"/><line x1="383" y1="357.9" x2="514" y2="357.9" stroke="#ebebeb" stroke-width="0.6"/><line x1="383" y1="368.6" x2="514" y2="368.6" stroke="#ebebeb" stroke-width="0.6"/><line x1="383" y1="379.2" x2="514" y2="379.2" stroke="#ebebeb" stroke-width="0.6"/><line x1="383" y1="389.8" x2="514" y2="389.8" stroke="#ebebeb" stroke-width="0.6"/><line x1="383" y1="400.5" x2="514" y2="400.5" stroke="#ebebeb" stroke-width="0.6"/><line x1="383" y1="411.1" x2="514" y2="411.1" stroke="#ebebeb" stroke-width="0.6"/><line x1="383" y1="421.8" x2="514" y2="421.8" stroke="#ebebeb" stroke-width="0.6"/><line x1="383" y1="432.4" x2="514" y2="432.4" stroke="#ebebeb" stroke-width="0.6"/><line x1="383" y1="443.0" x2="514" y2="443.0" stroke="#ebebeb" stroke-width="0.6"/><line x1="383" y1="453.7" x2="514" y2="453.7" stroke="#ebebeb" stroke-width="0.6"/><line x1="383" y1="464.3" x2="514" y2="464.3" stroke="#ebebeb" stroke-width="0.6"/><line x1="383" y1="475.0" x2="514" y2="475.0" stroke="#ebebeb" stroke-width="0.6"/><line x1="416.4" y1="267.5" x2="416.4" y2="479.5" stroke="#ebebeb" stroke-width="0.6"/><line x1="451.9" y1="267.5" x2="451.9" y2="479.5" stroke="#ebebeb" stroke-width="0.6"/><line x1="487.4" y1="267.5" x2="487.4" y2="479.5" stroke="#ebebeb" stroke-width="0.6"/>
<rect x="383" y="267.5" width="131.0" height="212.0" fill="none" stroke="#b0b0b0" stroke-width="0.7"/>
<line x1="381.5" y1="272.8" x2="383" y2="272.8" stroke="#444" stroke-width="0.5"/>
<text x="379.9" y="273.7" font-size="5.2" text-anchor="end" font-weight="bold" fill="#111" stroke="#111" stroke-width="0.15">regulation of endothelial cell migration</text>
<line x1="381.5" y1="283.4" x2="383" y2="283.4" stroke="#444" stroke-width="0.5"/>
<text x="379.9" y="284.3" font-size="5.2" text-anchor="end" font-weight="bold" fill="#111" stroke="#111" stroke-width="0.15">cellular response to ATP</text>
<line x1="381.5" y1="294.1" x2="383" y2="294.1" stroke="#444" stroke-width="0.5"/>
<text x="379.9" y="295.0" font-size="5.2" text-anchor="end" font-weight="bold" fill="#111" stroke="#111" stroke-width="0.15">positive regulation of mitochondrial depolarization</text>
<line x1="381.5" y1="304.7" x2="383" y2="304.7" stroke="#444" stroke-width="0.5"/>
<text x="379.9" y="305.6" font-size="5.2" text-anchor="end" font-weight="bold" fill="#111" stroke="#111" stroke-width="0.15">retinal metabolic process</text>
<line x1="381.5" y1="315.4" x2="383" y2="315.4" stroke="#444" stroke-width="0.5"/>
<text x="379.9" y="316.2" font-size="5.2" text-anchor="end" font-weight="bold" fill="#111" stroke="#111" stroke-width="0.15">endothelial cell migration</text>
<line x1="381.5" y1="326.0" x2="383" y2="326.0" stroke="#444" stroke-width="0.5"/>
<text x="379.9" y="326.9" font-size="5.2" text-anchor="end" font-weight="bold" fill="#111" stroke="#111" stroke-width="0.15">purinergic nucleotide receptor signaling pathway</text>
<line x1="381.5" y1="336.6" x2="383" y2="336.6" stroke="#444" stroke-width="0.5"/>
<text x="379.9" y="337.5" font-size="5.2" text-anchor="end" font-weight="bold" fill="#111" stroke="#111" stroke-width="0.15">positive regulation of endothelial cell chemotaxis</text>
<line x1="381.5" y1="347.3" x2="383" y2="347.3" stroke="#444" stroke-width="0.5"/>
<text x="379.9" y="348.2" font-size="5.2" text-anchor="end" font-weight="bold" fill="#111" stroke="#111" stroke-width="0.15">positive regulation of endothelial cell chemotaxis</text>
<line x1="381.5" y1="357.9" x2="383" y2="357.9" stroke="#444" stroke-width="0.5"/>
<text x="379.9" y="358.8" font-size="5.2" text-anchor="end" font-weight="bold" fill="#111" stroke="#111" stroke-width="0.15">hormone metabolic process</text>
<line x1="381.5" y1="368.6" x2="383" y2="368.6" stroke="#444" stroke-width="0.5"/>
<text x="379.9" y="369.4" font-size="5.2" text-anchor="end" font-weight="bold" fill="#111" stroke="#111" stroke-width="0.15">regulation of vascular endothelial growth factor signaling pathway</text>
<line x1="381.5" y1="379.2" x2="383" y2="379.2" stroke="#444" stroke-width="0.5"/>
<text x="379.9" y="380.1" font-size="5.2" text-anchor="end" font-weight="bold" fill="#111" stroke="#111" stroke-width="0.15">regulation of endothelial cell chemotaxis</text>
<line x1="381.5" y1="389.8" x2="383" y2="389.8" stroke="#444" stroke-width="0.5"/>
<text x="379.9" y="390.7" font-size="5.2" text-anchor="end" font-weight="bold" fill="#111" stroke="#111" stroke-width="0.15">lipid import into cell</text>
<line x1="381.5" y1="400.5" x2="383" y2="400.5" stroke="#444" stroke-width="0.5"/>
<text x="379.9" y="401.4" font-size="5.2" text-anchor="end" font-weight="bold" fill="#111" stroke="#111" stroke-width="0.15">response to fluid shear stress</text>
<line x1="381.5" y1="411.1" x2="383" y2="411.1" stroke="#444" stroke-width="0.5"/>
<text x="379.9" y="412.0" font-size="5.2" text-anchor="end" font-weight="bold" fill="#111" stroke="#111" stroke-width="0.15">sulfur compound metabolic process</text>
<line x1="381.5" y1="421.8" x2="383" y2="421.8" stroke="#444" stroke-width="0.5"/>
<text x="379.9" y="422.6" font-size="5.2" text-anchor="end" font-weight="bold" fill="#111" stroke="#111" stroke-width="0.15">positive regulation of macrophage migration</text>
<line x1="381.5" y1="432.4" x2="383" y2="432.4" stroke="#444" stroke-width="0.5"/>
<text x="379.9" y="433.3" font-size="5.2" text-anchor="end" font-weight="bold" fill="#111" stroke="#111" stroke-width="0.15">cilium assembly</text>
<line x1="381.5" y1="443.0" x2="383" y2="443.0" stroke="#444" stroke-width="0.5"/>
<text x="379.9" y="443.9" font-size="5.2" text-anchor="end" font-weight="bold" fill="#111" stroke="#111" stroke-width="0.15">vascular endothelial growth factor signaling pathway</text>
<line x1="381.5" y1="453.7" x2="383" y2="453.7" stroke="#444" stroke-width="0.5"/>
<text x="379.9" y="454.6" font-size="5.2" text-anchor="end" font-weight="bold" fill="#111" stroke="#111" stroke-width="0.15">skeletal muscle contraction</text>
<line x1="381.5" y1="464.3" x2="383" y2="464.3" stroke="#444" stroke-width="0.5"/>
<text x="379.9" y="465.2" font-size="5.2" text-anchor="end" font-weight="bold" fill="#111" stroke="#111" stroke-width="0.15">positive regulation of tube diameter calcium-mediated signaling</text>
<line x1="381.5" y1="475.0" x2="383" y2="475.0" stroke="#444" stroke-width="0.5"/>
<text x="379.9" y="475.8" font-size="5.2" text-anchor="end" font-weight="bold" fill="#111" stroke="#111" stroke-width="0.15">epithelial structure maintenance</text>
<line x1="416.4" y1="479.5" x2="416.4" y2="481.0" stroke="#444" stroke-width="0.5"/>
<text x="416.4" y="486.0" font-size="3.0" text-anchor="middle" fill="#444">1.7</text>
<line x1="451.9" y1="479.5" x2="451.9" y2="481.0" stroke="#444" stroke-width="0.5"/>
<text x="451.9" y="486.0" font-size="3.0" text-anchor="middle" fill="#444">1.9</text>
<line x1="487.4" y1="479.5" x2="487.4" y2="481.0" stroke="#444" stroke-width="0.5"/>
<text x="487.4" y="486.0" font-size="3.0" text-anchor="middle" fill="#444">2.1</text>
<text x="450.4" y="495.4" font-size="5.2" text-anchor="middle" fill="#111">-log10(pvalue)</text>
<text x="382.0" y="263.6" font-size="4.9" fill="#111">GO Enrichment - Biological Process</text>
<circle cx="508.0" cy="272.8" r="3.9" fill="#ff0014"/>
<circle cx="501.6" cy="283.4" r="1.15" fill="#fd011e"/>
<circle cx="494.0" cy="294.1" r="1.15" fill="#fb032a"/>
<circle cx="475.9" cy="304.7" r="1.15" fill="#f70647"/>
<circle cx="468.9" cy="315.4" r="4.2" fill="#f50752"/>
<circle cx="465.7" cy="326.0" r="1.15" fill="#f40857"/>
<circle cx="460.9" cy="336.6" r="1.15" fill="#f10967"/>
<circle cx="460.9" cy="347.3" r="1.15" fill="#f10967"/>
<circle cx="459.3" cy="357.9" r="4.2" fill="#f0096c"/>
<circle cx="440.9" cy="368.6" r="1.15" fill="#e30eaa"/>
<circle cx="437.7" cy="379.2" r="1.15" fill="#e10eb5"/>
<circle cx="437.7" cy="389.8" r="1.15" fill="#e10eb5"/>
<circle cx="434.5" cy="400.5" r="1.15" fill="#df0fc0"/>
<circle cx="430.7" cy="411.1" r="4.15" fill="#dc10cc"/>
<circle cx="414.8" cy="421.8" r="1.15" fill="#a310dc"/>
<circle cx="397.3" cy="432.4" r="4.2" fill="#6510ef"/>
<circle cx="391.5" cy="443.0" r="1.15" fill="#3507f5"/>
<circle cx="391.5" cy="453.7" r="1.15" fill="#3507f5"/>
<circle cx="387.7" cy="464.3" r="1.15" fill="#1000fa"/>
<circle cx="387.7" cy="475.0" r="1.15" fill="#1000fa"/>
<defs><linearGradient id="gD" x1="0" y1="0" x2="0" y2="1"><stop offset="0.0" stop-color="#ff0014"/><stop offset="0.1" stop-color="#fc0227"/><stop offset="0.2" stop-color="#f9053a"/><stop offset="0.3" stop-color="#f6074d"/><stop offset="0.4" stop-color="#f0096a"/><stop offset="0.5" stop-color="#e80c93"/><stop offset="0.6" stop-color="#e00fbb"/><stop offset="0.7" stop-color="#c310d3"/><stop offset="0.8" stop-color="#9810df"/><stop offset="0.9" stop-color="#6e10ec"/><stop offset="1.0" stop-color="#1000fa"/></linearGradient></defs>
<rect x="520.4" y="328.9" width="5.1" height="35.0" fill="url(#gD)"/>
<text x="516.6" y="324.6" font-size="4.7" fill="#111">-log10(pvalue)</text>
<line x1="524.5" y1="330.2" x2="525.5" y2="330.2" stroke="#fff" stroke-width="0.3"/>
<text x="529.3" y="331.2" font-size="3.0" fill="#333">2.2</text>
<line x1="524.5" y1="340.7" x2="525.5" y2="340.7" stroke="#fff" stroke-width="0.3"/>
<text x="529.3" y="341.7" font-size="3.0" fill="#333">2.0</text>
<line x1="524.5" y1="351.2" x2="525.5" y2="351.2" stroke="#fff" stroke-width="0.3"/>
<text x="529.3" y="352.2" font-size="3.0" fill="#333">1.8</text>
<line x1="524.5" y1="361.4" x2="525.5" y2="361.4" stroke="#fff" stroke-width="0.3"/>
<text x="529.3" y="362.4" font-size="3.0" fill="#333">1.6</text>
<text x="519.8" y="376.8" font-size="4.4" fill="#111">Count</text>
<circle cx="525.2" cy="383.2" r="0.7" fill="#000"/>
<text x="532.5" y="384.2" font-size="3.0" fill="#333">1.00</text>
<circle cx="525.2" cy="390.9" r="2.2" fill="#000"/>
<text x="532.5" y="391.9" font-size="3.0" fill="#333">1.25</text>
<circle cx="525.2" cy="398.8" r="2.7" fill="#000"/>
<text x="532.5" y="399.8" font-size="3.0" fill="#333">1.50</text>
<circle cx="525.2" cy="408.4" r="3.3" fill="#000"/>
<text x="532.5" y="409.4" font-size="3.0" fill="#333">1.75</text>
<circle cx="525.2" cy="419.5" r="3.8" fill="#000"/>
<text x="532.5" y="420.5" font-size="3.0" fill="#333">2.00</text>
<line x1="412.9" y1="553.4" x2="412.9" y2="738.8" stroke="#f4f4f4" stroke-width="0.5"/><line x1="448.5" y1="553.4" x2="448.5" y2="738.8" stroke="#f4f4f4" stroke-width="0.5"/><line x1="483.8" y1="553.4" x2="483.8" y2="738.8" stroke="#f4f4f4" stroke-width="0.5"/><line x1="383.9" y1="558.6" x2="510.8" y2="558.6" stroke="#ebebeb" stroke-width="0.6"/><line x1="383.9" y1="567.8" x2="510.8" y2="567.8" stroke="#ebebeb" stroke-width="0.6"/><line x1="383.9" y1="577.0" x2="510.8" y2="577.0" stroke="#ebebeb" stroke-width="0.6"/><line x1="383.9" y1="586.2" x2="510.8" y2="586.2" stroke="#ebebeb" stroke-width="0.6"/><line x1="383.9" y1="595.4" x2="510.8" y2="595.4" stroke="#ebebeb" stroke-width="0.6"/><line x1="383.9" y1="604.6" x2="510.8" y2="604.6" stroke="#ebebeb" stroke-width="0.6"/><line x1="383.9" y1="613.8" x2="510.8" y2="613.8" stroke="#ebebeb" stroke-width="0.6"/><line x1="383.9" y1="623.0" x2="510.8" y2="623.0" stroke="#ebebeb" stroke-width="0.6"/><line x1="383.9" y1="632.2" x2="510.8" y2="632.2" stroke="#ebebeb" stroke-width="0.6"/><line x1="383.9" y1="641.4" x2="510.8" y2="641.4" stroke="#ebebeb" stroke-width="0.6"/><line x1="383.9" y1="650.6" x2="510.8" y2="650.6" stroke="#ebebeb" stroke-width="0.6"/><line x1="383.9" y1="659.8" x2="510.8" y2="659.8" stroke="#ebebeb" stroke-width="0.6"/><line x1="383.9" y1="669.0" x2="510.8" y2="669.0" stroke="#ebebeb" stroke-width="0.6"/><line x1="383.9" y1="678.2" x2="510.8" y2="678.2" stroke="#ebebeb" stroke-width="0.6"/><line x1="383.9" y1="687.4" x2="510.8" y2="687.4" stroke="#ebebeb" stroke-width="0.6"/><line x1="383.9" y1="696.6" x2="510.8" y2="696.6" stroke="#ebebeb" stroke-width="0.6"/><line x1="383.9" y1="705.8" x2="510.8" y2="705.8" stroke="#ebebeb" stroke-width="0.6"/><line x1="383.9" y1="715.0" x2="510.8" y2="715.0" stroke="#ebebeb" stroke-width="0.6"/><line x1="383.9" y1="724.2" x2="510.8" y2="724.2" stroke="#ebebeb" stroke-width="0.6"/><line x1="383.9" y1="733.4" x2="510.8" y2="733.4" stroke="#ebebeb" stroke-width="0.6"/><line x1="395.0" y1="553.4" x2="395.0" y2="738.8" stroke="#ebebeb" stroke-width="0.6"/><line x1="430.7" y1="553.4" x2="430.7" y2="738.8" stroke="#ebebeb" stroke-width="0.6"/><line x1="466.3" y1="553.4" x2="466.3" y2="738.8" stroke="#ebebeb" stroke-width="0.6"/><line x1="501.3" y1="553.4" x2="501.3" y2="738.8" stroke="#ebebeb" stroke-width="0.6"/>
<rect x="383.9" y="553.4" width="126.9" height="185.4" fill="none" stroke="#b0b0b0" stroke-width="0.7"/>
<line x1="382.4" y1="558.6" x2="383.9" y2="558.6" stroke="#444" stroke-width="0.5"/>
<text x="380.6" y="559.3" font-size="5.15" text-anchor="end" font-weight="bold" fill="#111" stroke="#111" stroke-width="0.15">cilium movement</text>
<line x1="382.4" y1="567.8" x2="383.9" y2="567.8" stroke="#444" stroke-width="0.5"/>
<text x="380.6" y="568.5" font-size="5.15" text-anchor="end" font-weight="bold" fill="#111" stroke="#111" stroke-width="0.15">extracellular matrix organization</text>
<line x1="382.4" y1="577.0" x2="383.9" y2="577.0" stroke="#444" stroke-width="0.5"/>
<text x="380.6" y="577.7" font-size="5.15" text-anchor="end" font-weight="bold" fill="#111" stroke="#111" stroke-width="0.15">extracellular structure organization</text>
<line x1="382.4" y1="586.2" x2="383.9" y2="586.2" stroke="#444" stroke-width="0.5"/>
<text x="380.6" y="586.9" font-size="5.15" text-anchor="end" font-weight="bold" fill="#111" stroke="#111" stroke-width="0.15">external encapsulating structure organization</text>
<line x1="382.4" y1="595.4" x2="383.9" y2="595.4" stroke="#444" stroke-width="0.5"/>
<text x="380.6" y="596.1" font-size="5.15" text-anchor="end" font-weight="bold" fill="#111" stroke="#111" stroke-width="0.15">microtubule-based movement</text>
<line x1="382.4" y1="604.6" x2="383.9" y2="604.6" stroke="#444" stroke-width="0.5"/>
<text x="380.6" y="605.3" font-size="5.15" text-anchor="end" font-weight="bold" fill="#111" stroke="#111" stroke-width="0.15">microtubule-based movement</text>
<line x1="382.4" y1="613.8" x2="383.9" y2="613.8" stroke="#444" stroke-width="0.5"/>
<text x="380.6" y="614.5" font-size="5.15" text-anchor="end" font-weight="bold" fill="#111" stroke="#111" stroke-width="0.15">cellular response to transforming growth factor beta stimulus</text>
<line x1="382.4" y1="623.0" x2="383.9" y2="623.0" stroke="#444" stroke-width="0.5"/>
<text x="380.6" y="623.7" font-size="5.15" text-anchor="end" font-weight="bold" fill="#111" stroke="#111" stroke-width="0.15">cerebellar granular layer formation</text>
<line x1="382.4" y1="632.2" x2="383.9" y2="632.2" stroke="#444" stroke-width="0.5"/>
<text x="380.6" y="632.9" font-size="5.15" text-anchor="end" font-weight="bold" fill="#111" stroke="#111" stroke-width="0.15">cerebellar granule cell differentiation</text>
<line x1="382.4" y1="641.4" x2="383.9" y2="641.4" stroke="#444" stroke-width="0.5"/>
<text x="380.6" y="642.1" font-size="5.15" text-anchor="end" font-weight="bold" fill="#111" stroke="#111" stroke-width="0.15">plasma membrane raft organization</text>
<line x1="382.4" y1="650.6" x2="383.9" y2="650.6" stroke="#444" stroke-width="0.5"/>
<text x="380.6" y="651.3" font-size="5.15" text-anchor="end" font-weight="bold" fill="#111" stroke="#111" stroke-width="0.15">endocytosis involved in viral entry into host cell</text>
<line x1="382.4" y1="659.8" x2="383.9" y2="659.8" stroke="#444" stroke-width="0.5"/>
<text x="380.6" y="660.5" font-size="5.15" text-anchor="end" font-weight="bold" fill="#111" stroke="#111" stroke-width="0.15">elastic fiber assembly</text>
<line x1="382.4" y1="669.0" x2="383.9" y2="669.0" stroke="#444" stroke-width="0.5"/>
<text x="380.6" y="669.7" font-size="5.15" text-anchor="end" font-weight="bold" fill="#111" stroke="#111" stroke-width="0.15">regulation of dopamine receptor signaling pathway</text>
<line x1="382.4" y1="678.2" x2="383.9" y2="678.2" stroke="#444" stroke-width="0.5"/>
<text x="380.6" y="678.9" font-size="5.15" text-anchor="end" font-weight="bold" fill="#111" stroke="#111" stroke-width="0.15">cerebellar granular layer morphogenesis</text>
<line x1="382.4" y1="687.4" x2="383.9" y2="687.4" stroke="#444" stroke-width="0.5"/>
<text x="380.6" y="688.1" font-size="5.15" text-anchor="end" font-weight="bold" fill="#111" stroke="#111" stroke-width="0.15">platelet-derived growth factor receptor-beta signaling pathway</text>
<line x1="382.4" y1="696.6" x2="383.9" y2="696.6" stroke="#444" stroke-width="0.5"/>
<text x="380.6" y="697.3" font-size="5.15" text-anchor="end" font-weight="bold" fill="#111" stroke="#111" stroke-width="0.15">transforming growth factor beta receptor signaling pathway</text>
<line x1="382.4" y1="705.8" x2="383.9" y2="705.8" stroke="#444" stroke-width="0.5"/>
<text x="380.6" y="706.5" font-size="5.15" text-anchor="end" font-weight="bold" fill="#111" stroke="#111" stroke-width="0.15">protein oxidation</text>
<line x1="382.4" y1="715.0" x2="383.9" y2="715.0" stroke="#444" stroke-width="0.5"/>
<text x="380.6" y="715.7" font-size="5.15" text-anchor="end" font-weight="bold" fill="#111" stroke="#111" stroke-width="0.15">carbon dioxide transport</text>
<line x1="382.4" y1="724.2" x2="383.9" y2="724.2" stroke="#444" stroke-width="0.5"/>
<text x="380.6" y="724.9" font-size="5.15" text-anchor="end" font-weight="bold" fill="#111" stroke="#111" stroke-width="0.15">transport of virus</text>
<line x1="382.4" y1="733.4" x2="383.9" y2="733.4" stroke="#444" stroke-width="0.5"/>
<text x="380.6" y="734.1" font-size="5.15" text-anchor="end" font-weight="bold" fill="#111" stroke="#111" stroke-width="0.15">regulation of skeletal muscle cell proliferation</text>
<line x1="395.0" y1="738.8" x2="395.0" y2="740.3" stroke="#444" stroke-width="0.5"/>
<text x="395.0" y="743.5" font-size="3.0" text-anchor="middle" fill="#444">2.0</text>
<line x1="430.7" y1="738.8" x2="430.7" y2="740.3" stroke="#444" stroke-width="0.5"/>
<text x="430.7" y="743.5" font-size="3.0" text-anchor="middle" fill="#444">2.4</text>
<line x1="466.3" y1="738.8" x2="466.3" y2="740.3" stroke="#444" stroke-width="0.5"/>
<text x="466.3" y="743.5" font-size="3.0" text-anchor="middle" fill="#444">2.8</text>
<line x1="501.3" y1="738.8" x2="501.3" y2="740.3" stroke="#444" stroke-width="0.5"/>
<text x="501.3" y="743.5" font-size="3.0" text-anchor="middle" fill="#444">3.2</text>
<text x="450.2" y="753.2" font-size="5.3" text-anchor="middle" fill="#111">-log10(pvalue)</text>
<text x="383.0" y="550.4" font-size="5.18" fill="#111">GO Enrichment - Biological Process</text>
<circle cx="504.8" cy="558.6" r="4.1" fill="#ff0014"/>
<circle cx="464.7" cy="567.8" r="4.1" fill="#f40856"/>
<circle cx="464.7" cy="577.0" r="4.1" fill="#f40856"/>
<circle cx="464.7" cy="586.2" r="4.1" fill="#f40856"/>
<circle cx="430.0" cy="595.4" r="4.3" fill="#dc10cd"/>
<circle cx="425.9" cy="604.6" r="3.3" fill="#cc10d1"/>
<circle cx="424.3" cy="613.8" r="3.3" fill="#c610d2"/>
<circle cx="406.8" cy="623.0" r="1.15" fill="#8510e5"/>
<circle cx="406.8" cy="632.2" r="1.15" fill="#8510e5"/>
<circle cx="406.8" cy="641.4" r="1.15" fill="#8510e5"/>
<circle cx="406.8" cy="650.6" r="1.15" fill="#8510e5"/>
<circle cx="403.0" cy="659.8" r="1.15" fill="#7710e9"/>
<circle cx="403.0" cy="669.0" r="1.15" fill="#7710e9"/>
<circle cx="399.8" cy="678.2" r="1.15" fill="#6c10ec"/>
<circle cx="396.6" cy="687.4" r="1.15" fill="#6010f0"/>
<circle cx="396.6" cy="696.6" r="3.5999999999999996" fill="#6010f0"/>
<circle cx="394.1" cy="705.8" r="1.15" fill="#470bf3"/>
<circle cx="391.0" cy="715.0" r="1.15" fill="#2705f7"/>
<circle cx="391.0" cy="724.2" r="1.15" fill="#2705f7"/>
<circle cx="388.7" cy="733.4" r="1.15" fill="#1000fa"/>
<defs><linearGradient id="gF" x1="0" y1="0" x2="0" y2="1"><stop offset="0.0" stop-color="#ff0014"/><stop offset="0.1" stop-color="#fc0227"/><stop offset="0.2" stop-color="#f9053a"/><stop offset="0.3" stop-color="#f6074d"/><stop offset="0.4" stop-color="#f0096a"/><stop offset="0.5" stop-color="#e80c93"/><stop offset="0.6" stop-color="#e00fbb"/><stop offset="0.7" stop-color="#c310d3"/><stop offset="0.8" stop-color="#9810df"/><stop offset="0.9" stop-color="#6e10ec"/><stop offset="1.0" stop-color="#1000fa"/></linearGradient></defs>
<rect x="517.5" y="607.5" width="6.4" height="29.9" fill="url(#gF)"/>
<text x="516.6" y="603.4" font-size="4.9" fill="#111">-log10(pvalue)</text>
<line x1="522.9" y1="612.5" x2="523.9" y2="612.5" stroke="#fff" stroke-width="0.3"/>
<text x="527.7" y="613.5" font-size="3.0" fill="#333">3.00</text>
<line x1="522.9" y1="618.3" x2="523.9" y2="618.3" stroke="#fff" stroke-width="0.3"/>
<text x="527.7" y="619.3" font-size="3.0" fill="#333">2.75</text>
<line x1="522.9" y1="624.6" x2="523.9" y2="624.6" stroke="#fff" stroke-width="0.3"/>
<text x="527.7" y="625.6" font-size="3.0" fill="#333">2.50</text>
<line x1="522.9" y1="630.4" x2="523.9" y2="630.4" stroke="#fff" stroke-width="0.3"/>
<text x="527.7" y="631.4" font-size="3.0" fill="#333">2.25</text>
<line x1="522.9" y1="635.5" x2="523.9" y2="635.5" stroke="#fff" stroke-width="0.3"/>
<text x="527.7" y="636.5" font-size="3.0" fill="#333">2.00</text>
<text x="517.2" y="648.6" font-size="4.3" fill="#111">Count</text>
<circle cx="523" cy="654.3" r="0.7" fill="#000"/>
<text x="530.0" y="655.3" font-size="3.0" fill="#333">1.0</text>
<circle cx="523" cy="660.7" r="2.2" fill="#000"/>
<text x="530.0" y="661.7" font-size="3.0" fill="#333">1.5</text>
<circle cx="523" cy="667.7" r="2.7" fill="#000"/>
<text x="530.0" y="668.7" font-size="3.0" fill="#333">2.0</text>
<circle cx="523" cy="675.6" r="3.2" fill="#000"/>
<text x="530.0" y="676.6" font-size="3.0" fill="#333">2.5</text>
<circle cx="523" cy="686.1" r="3.8" fill="#000"/>
<text x="530.0" y="687.1" font-size="3.0" fill="#333">3.0</text>
<text x="6.7" y="22.5" font-size="14.7" font-weight="bold" stroke="#000" stroke-width="0.35">A</text>
<text x="256.4" y="22.6" font-size="14.7" font-weight="bold" stroke="#000" stroke-width="0.35">B</text>
<text x="6.8" y="262.3" font-size="14.7" font-weight="bold" stroke="#000" stroke-width="0.35">C</text>
<text x="262.4" y="262.2" font-size="14.7" font-weight="bold" stroke="#000" stroke-width="0.35">D</text>
<text x="6.9" y="538.0" font-size="14.7" font-weight="bold" stroke="#000" stroke-width="0.35">E</text>
<text x="262.2" y="538.5" font-size="14.7" font-weight="bold" stroke="#000" stroke-width="0.35">F</text>
<text x="188.7" y="233.8" font-size="17.9" fill="#111" textLength="147.5" lengthAdjust="spacingAndGlyphs" stroke="#111" stroke-width="0.35">E13.5 VS E14.5ASVs</text>
<text x="191.4" y="505.2" font-size="17.9" fill="#111" textLength="147.9" lengthAdjust="spacingAndGlyphs" stroke="#111" stroke-width="0.35">E14.5 VS E15.5ASVs</text>
<text x="194.2" y="772.8" font-size="17.9" fill="#111" textLength="147.5" lengthAdjust="spacingAndGlyphs" stroke="#111" stroke-width="0.35">E13.5 VS E15.5ASVs</text>
</svg></body></html>
